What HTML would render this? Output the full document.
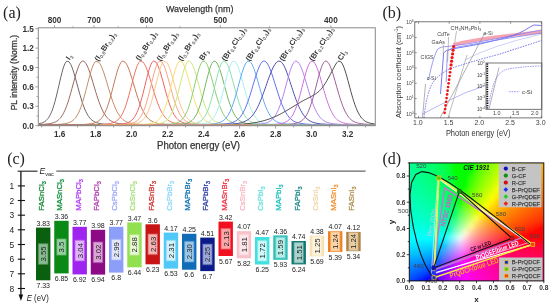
<!DOCTYPE html>
<html><head><meta charset="utf-8"><style>
html,body{margin:0;padding:0;background:#fff;}
svg{display:block;filter:blur(0.35px);}
</style></head><body>
<svg width="550" height="307" viewBox="0 0 550 307">
<rect width="550" height="307" fill="#fff"/>
<g id="pa">
<text x="3.1" y="17.6" font-family="'Liberation Serif', serif" font-size="16" fill="#222">(a)</text>
<polyline points="38.9,123.7 40.9,123.3 41.9,122.9 42.9,122.6 43.9,122.1 44.9,121.5 45.9,120.7 46.9,119.7 47.9,118.6 48.9,117.2 49.9,115.4 50.9,113.4 51.9,111.1 52.9,108.3 53.9,105.2 54.9,101.8 55.9,98.0 56.9,94.0 57.9,89.7 58.9,85.4 59.9,81.0 60.9,76.8 61.9,72.8 62.9,69.2 63.9,66.1 64.9,63.7 65.9,62.0 66.9,61.1 68.9,61.7 69.9,63.0 70.9,64.7 71.9,67.0 72.9,69.8 73.9,72.9 74.9,76.3 75.9,79.8 76.9,83.5 77.9,87.2 78.9,90.9 79.9,94.5 80.9,97.9 81.9,101.2 82.9,104.2 83.9,106.9 84.9,109.4 85.9,111.6 86.9,113.6 87.9,115.3 88.9,116.8 89.9,118.1 90.9,119.2 91.9,120.1 92.9,120.8 93.9,121.5 94.9,122.0 95.9,122.4 96.9,122.8 97.9,123.1 98.9,123.3 100.9,123.7 102.9,124.0 104.9,124.2 108.9,124.4 110.9,124.5 116.9,124.8 122.9,125.0 128.9,125.1 134.9,125.1 140.9,125.1 146.9,125.1 152.9,125.1 158.9,125.1 164.9,125.1" fill="none" stroke="#6e6666" stroke-width="1.0" stroke-linejoin="round"/>
<polyline points="38.9,124.6 43.9,124.3 44.9,124.2 47.9,123.9 49.9,123.6 50.9,123.4 52.9,122.9 53.9,122.6 54.9,122.2 55.9,121.7 56.9,121.1 57.9,120.4 58.9,119.5 59.9,118.5 60.9,117.3 61.9,115.9 62.9,114.3 63.9,112.4 64.9,110.3 65.9,107.9 66.9,105.3 67.9,102.4 68.9,99.3 69.9,95.9 70.9,92.4 71.9,88.7 72.9,85.0 73.9,81.3 74.9,77.7 75.9,74.2 76.9,71.0 77.9,68.1 78.9,65.6 79.9,63.6 80.9,62.1 81.9,61.3 82.9,61.0 83.9,61.3 84.9,62.2 85.9,63.5 86.9,65.2 87.9,67.4 88.9,69.9 89.9,72.7 90.9,75.8 91.9,79.0 92.9,82.3 93.9,85.7 94.9,89.1 95.9,92.4 96.9,95.6 97.9,98.7 98.9,101.6 99.9,104.3 100.9,106.8 101.9,109.1 102.9,111.1 103.9,113.0 104.9,114.6 105.9,116.1 106.9,117.3 107.9,118.4 108.9,119.4 109.9,120.2 110.9,120.9 111.9,121.4 112.9,121.9 113.9,122.3 114.9,122.7 115.9,123.0 116.9,123.2 118.9,123.6 120.9,123.9 122.9,124.1 126.9,124.3 128.9,124.5 134.9,124.7 140.9,124.9 146.9,125.0 152.9,125.1 158.9,125.1 164.9,125.1 170.9,125.1 176.9,125.1 182.9,125.1 188.9,125.1 189.9,125.1" fill="none" stroke="#9c6860" stroke-width="1.0" stroke-linejoin="round"/>
<polyline points="38.9,125.1 44.9,124.9 50.9,124.7 56.9,124.5 60.9,124.2 62.9,124.0 64.9,123.7 66.9,123.3 67.9,123.0 68.9,122.7 69.9,122.3 70.9,121.8 71.9,121.2 72.9,120.5 73.9,119.6 74.9,118.6 75.9,117.3 76.9,115.8 77.9,114.1 78.9,112.1 79.9,109.8 80.9,107.3 81.9,104.4 82.9,101.2 83.9,97.8 84.9,94.2 85.9,90.4 86.9,86.6 87.9,82.6 88.9,78.8 89.9,75.1 90.9,71.6 91.9,68.5 92.9,65.8 93.9,63.7 94.9,62.1 95.9,61.3 98.9,62.3 99.9,63.6 100.9,65.4 101.9,67.6 102.9,70.2 103.9,73.0 104.9,76.1 105.9,79.3 106.9,82.7 107.9,86.1 108.9,89.4 109.9,92.7 110.9,95.9 111.9,99.0 112.9,101.9 113.9,104.5 114.9,107.0 115.9,109.3 116.9,111.3 117.9,113.2 118.9,114.8 119.9,116.2 120.9,117.5 121.9,118.5 122.9,119.5 123.9,120.3 124.9,120.9 125.9,121.5 126.9,122.0 127.9,122.4 128.9,122.7 129.9,123.0 131.9,123.4 133.9,123.7 134.9,123.9 137.9,124.2 140.9,124.4 146.9,124.6 152.9,124.8 158.9,125.0 164.9,125.1 170.9,125.1 176.9,125.1 182.9,125.1 188.9,125.1 194.9,125.1 200.9,125.1 203.9,125.1" fill="none" stroke="#c48c66" stroke-width="1.0" stroke-linejoin="round"/>
<polyline points="38.9,125.1 44.9,125.1 50.9,125.1 56.9,125.1 62.9,125.1 68.9,125.0 74.9,124.8 80.9,124.6 85.9,124.3 86.9,124.2 89.9,123.9 91.9,123.6 92.9,123.4 94.9,122.8 95.9,122.4 96.9,122.0 97.9,121.4 98.9,120.7 99.9,119.9 100.9,118.9 101.9,117.7 102.9,116.3 103.9,114.7 104.9,112.7 105.9,110.5 106.9,108.1 107.9,105.3 108.9,102.2 109.9,98.9 110.9,95.3 111.9,91.6 112.9,87.7 113.9,83.8 114.9,79.9 115.9,76.2 116.9,72.6 117.9,69.4 118.9,66.6 119.9,64.3 120.9,62.5 121.9,61.4 122.9,61.0 124.9,62.0 125.9,63.2 126.9,64.8 127.9,66.9 128.9,69.4 129.9,72.1 130.9,75.2 131.9,78.3 132.9,81.7 133.9,85.0 134.9,88.4 135.9,91.8 136.9,95.0 137.9,98.1 138.9,101.0 139.9,103.8 140.9,106.3 141.9,108.6 142.9,110.7 143.9,112.6 144.9,114.3 145.9,115.8 146.9,117.1 147.9,118.2 148.9,119.2 149.9,120.0 150.9,120.7 151.9,121.3 152.9,121.8 153.9,122.3 154.9,122.6 155.9,122.9 156.9,123.2 158.9,123.6 160.9,123.8 163.9,124.1 164.9,124.2 169.9,124.5 170.9,124.5 176.9,124.8 182.9,124.9 188.9,125.1 194.9,125.1 200.9,125.1 206.9,125.1 212.9,125.1 218.9,125.1 224.9,125.1 229.9,125.1" fill="none" stroke="#c47a56" stroke-width="1.0" stroke-linejoin="round"/>
<polyline points="48.9,125.1 54.9,125.1 60.9,125.1 66.9,125.1 72.9,125.1 78.9,125.1 84.9,125.0 90.9,124.9 96.9,124.7 101.9,124.4 102.9,124.4 106.9,124.0 108.9,123.7 110.9,123.4 112.9,122.8 113.9,122.4 114.9,122.0 115.9,121.4 116.9,120.7 117.9,119.9 118.9,118.9 119.9,117.7 120.9,116.3 121.9,114.7 122.9,112.7 123.9,110.5 124.9,108.1 125.9,105.3 126.9,102.2 127.9,98.9 128.9,95.3 129.9,91.6 130.9,87.7 131.9,83.8 132.9,79.9 133.9,76.2 134.9,72.6 135.9,69.4 136.9,66.6 137.9,64.3 138.9,62.5 139.9,61.4 140.9,61.0 142.9,62.0 143.9,63.2 144.9,64.8 145.9,66.9 146.9,69.4 147.9,72.1 148.9,75.2 149.9,78.3 150.9,81.7 151.9,85.0 152.9,88.4 153.9,91.8 154.9,95.0 155.9,98.1 156.9,101.0 157.9,103.8 158.9,106.3 159.9,108.6 160.9,110.7 161.9,112.6 162.9,114.3 163.9,115.8 164.9,117.1 165.9,118.2 166.9,119.2 167.9,120.0 168.9,120.7 169.9,121.3 170.9,121.8 171.9,122.3 172.9,122.6 173.9,122.9 174.9,123.2 176.9,123.6 178.9,123.8 180.9,124.0 184.9,124.3 186.9,124.4 192.9,124.7 198.9,124.9 204.9,125.0 210.9,125.1 216.9,125.1 222.9,125.1 228.9,125.1 234.9,125.1 240.9,125.1 246.9,125.1 247.9,125.1" fill="none" stroke="#f07262" stroke-width="1.0" stroke-linejoin="round"/>
<polyline points="66.9,125.1 72.9,125.1 78.9,125.1 84.9,125.1 90.9,125.1 96.9,125.1 102.9,125.0 108.9,124.8 114.9,124.5 118.9,124.3 120.9,124.1 123.9,123.7 125.9,123.3 126.9,123.0 127.9,122.6 128.9,122.2 129.9,121.6 130.9,120.9 131.9,120.1 132.9,119.1 133.9,117.9 134.9,116.4 135.9,114.7 136.9,112.6 137.9,110.3 138.9,107.6 139.9,104.6 140.9,101.3 141.9,97.7 142.9,93.9 143.9,89.9 144.9,85.8 145.9,81.7 146.9,77.6 147.9,73.8 148.9,70.3 149.9,67.2 150.9,64.6 151.9,62.7 152.9,61.5 153.9,61.0 155.9,62.1 156.9,63.6 157.9,65.6 158.9,68.1 159.9,71.0 160.9,74.2 161.9,77.7 162.9,81.3 163.9,85.0 164.9,88.7 165.9,92.4 166.9,95.9 167.9,99.3 168.9,102.4 169.9,105.3 170.9,107.9 171.9,110.3 172.9,112.4 173.9,114.3 174.9,115.9 175.9,117.3 176.9,118.5 177.9,119.5 178.9,120.4 179.9,121.1 180.9,121.7 181.9,122.2 182.9,122.6 183.9,122.9 184.9,123.2 186.9,123.6 188.9,123.9 191.9,124.2 192.9,124.3 197.9,124.6 198.9,124.6 204.9,124.8 210.9,125.0 216.9,125.1 222.9,125.1 228.9,125.1 234.9,125.1 240.9,125.1 246.9,125.1 250.9,125.1" fill="none" stroke="#f06262" stroke-width="1.0" stroke-linejoin="round"/>
<polyline points="72.9,125.1 78.9,125.1 84.9,125.1 90.9,125.1 96.9,125.1 102.9,125.1 108.9,125.0 114.9,124.8 120.9,124.5 124.9,124.3 126.9,124.1 129.9,123.7 131.9,123.3 132.9,123.0 133.9,122.6 134.9,122.2 135.9,121.6 136.9,120.9 137.9,120.1 138.9,119.1 139.9,117.9 140.9,116.4 141.9,114.7 142.9,112.6 143.9,110.3 144.9,107.6 145.9,104.6 146.9,101.3 147.9,97.7 148.9,93.9 149.9,89.9 150.9,85.8 151.9,81.7 152.9,77.6 153.9,73.8 154.9,70.3 155.9,67.2 156.9,64.6 157.9,62.7 158.9,61.5 159.9,61.0 161.9,62.1 162.9,63.6 163.9,65.6 164.9,68.1 165.9,71.0 166.9,74.2 167.9,77.7 168.9,81.3 169.9,85.0 170.9,88.7 171.9,92.4 172.9,95.9 173.9,99.3 174.9,102.4 175.9,105.3 176.9,107.9 177.9,110.3 178.9,112.4 179.9,114.3 180.9,115.9 181.9,117.3 182.9,118.5 183.9,119.5 184.9,120.4 185.9,121.1 186.9,121.7 187.9,122.2 188.9,122.6 189.9,122.9 190.9,123.2 192.9,123.6 194.9,123.9 197.9,124.2 198.9,124.3 203.9,124.6 204.9,124.6 210.9,124.8 216.9,125.0 222.9,125.1 228.9,125.1 234.9,125.1 240.9,125.1 246.9,125.1 252.9,125.1 256.9,125.1" fill="none" stroke="#f8a484" stroke-width="1.0" stroke-linejoin="round"/>
<polyline points="76.9,125.1 82.9,125.1 88.9,125.1 94.9,125.1 100.9,125.1 106.9,125.1 112.9,125.0 118.9,124.8 124.9,124.6 129.9,124.3 130.9,124.2 133.9,123.8 135.9,123.4 136.9,123.2 137.9,122.9 138.9,122.5 139.9,122.0 140.9,121.4 141.9,120.7 142.9,119.8 143.9,118.8 144.9,117.5 145.9,115.9 146.9,114.1 147.9,112.0 148.9,109.5 149.9,106.8 150.9,103.7 151.9,100.3 152.9,96.6 153.9,92.7 154.9,88.7 155.9,84.6 156.9,80.4 157.9,76.4 158.9,72.7 159.9,69.3 160.9,66.3 161.9,64.0 162.9,62.3 163.9,61.3 166.9,62.5 167.9,64.1 168.9,66.3 169.9,68.9 170.9,71.9 171.9,75.2 172.9,78.7 173.9,82.4 174.9,86.1 175.9,89.8 176.9,93.4 177.9,96.9 178.9,100.2 179.9,103.3 180.9,106.1 181.9,108.7 182.9,111.0 183.9,113.0 184.9,114.8 185.9,116.4 186.9,117.7 187.9,118.8 188.9,119.8 189.9,120.6 190.9,121.3 191.9,121.8 192.9,122.3 193.9,122.7 194.9,123.0 195.9,123.3 196.9,123.5 198.9,123.8 201.9,124.1 202.9,124.2 206.9,124.5 208.9,124.6 214.9,124.8 220.9,125.0 226.9,125.1 232.9,125.1 238.9,125.1 244.9,125.1 250.9,125.1 256.9,125.1 261.9,125.1" fill="none" stroke="#f8c890" stroke-width="1.0" stroke-linejoin="round"/>
<polyline points="92.9,125.1 98.9,125.1 104.9,125.1 110.9,125.1 116.9,125.1 122.9,125.1 128.9,125.0 134.9,124.8 140.9,124.5 144.9,124.3 146.9,124.1 149.9,123.7 151.9,123.3 152.9,123.0 153.9,122.7 154.9,122.3 155.9,121.7 156.9,121.1 157.9,120.3 158.9,119.3 159.9,118.1 160.9,116.7 161.9,115.0 162.9,113.1 163.9,110.8 164.9,108.2 165.9,105.3 166.9,102.0 167.9,98.5 168.9,94.7 169.9,90.7 170.9,86.6 171.9,82.5 172.9,78.4 173.9,74.5 174.9,70.9 175.9,67.8 176.9,65.1 177.9,63.0 178.9,61.7 179.9,61.1 181.9,61.9 182.9,63.3 183.9,65.2 184.9,67.5 185.9,70.4 186.9,73.5 187.9,77.0 188.9,80.6 189.9,84.3 190.9,88.0 191.9,91.7 192.9,95.2 193.9,98.6 194.9,101.8 195.9,104.7 196.9,107.4 197.9,109.9 198.9,112.0 199.9,113.9 200.9,115.6 201.9,117.1 202.9,118.3 203.9,119.3 204.9,120.2 205.9,121.0 206.9,121.6 207.9,122.1 208.9,122.5 209.9,122.9 210.9,123.1 212.9,123.6 214.9,123.9 217.9,124.2 218.9,124.3 223.9,124.5 224.9,124.6 230.9,124.8 236.9,125.0 242.9,125.1 248.9,125.1 254.9,125.1 260.9,125.1 266.9,125.1 272.9,125.1 276.9,125.1" fill="none" stroke="#f8e070" stroke-width="1.0" stroke-linejoin="round"/>
<polyline points="101.9,125.1 107.9,125.1 113.9,125.1 119.9,125.1 125.9,125.1 131.9,125.1 137.9,125.0 143.9,124.8 149.9,124.5 153.9,124.3 155.9,124.1 158.9,123.7 160.9,123.2 161.9,122.9 162.9,122.6 163.9,122.1 164.9,121.6 165.9,120.9 166.9,120.0 167.9,119.0 168.9,117.7 169.9,116.2 170.9,114.5 171.9,112.4 172.9,110.0 173.9,107.3 174.9,104.3 175.9,101.0 176.9,97.4 177.9,93.5 178.9,89.5 179.9,85.4 180.9,81.3 181.9,77.2 182.9,73.4 183.9,69.9 184.9,66.9 185.9,64.4 186.9,62.6 187.9,61.4 188.9,61.0 189.9,61.3 190.9,62.3 191.9,63.8 192.9,65.8 193.9,68.4 194.9,71.3 195.9,74.5 196.9,78.0 197.9,81.7 198.9,85.4 199.9,89.1 200.9,92.7 201.9,96.2 202.9,99.6 203.9,102.7 204.9,105.6 205.9,108.2 206.9,110.5 207.9,112.6 208.9,114.5 209.9,116.1 210.9,117.5 211.9,118.6 212.9,119.6 213.9,120.5 214.9,121.2 215.9,121.7 216.9,122.2 217.9,122.6 218.9,122.9 219.9,123.2 221.9,123.6 223.9,123.9 226.9,124.2 227.9,124.3 232.9,124.6 233.9,124.6 239.9,124.8 245.9,125.0 251.9,125.1 257.9,125.1 263.9,125.1 269.9,125.1 275.9,125.1 281.9,125.1 285.9,125.1" fill="none" stroke="#cce878" stroke-width="1.0" stroke-linejoin="round"/>
<polyline points="115.9,125.1 121.9,125.1 127.9,125.1 133.9,125.1 139.9,125.1 145.9,125.1 151.9,125.0 157.9,124.8 163.9,124.6 168.9,124.2 169.9,124.2 172.9,123.8 174.9,123.4 175.9,123.2 176.9,122.8 177.9,122.5 178.9,122.0 179.9,121.4 180.9,120.6 181.9,119.7 182.9,118.6 183.9,117.3 184.9,115.7 185.9,113.9 186.9,111.7 187.9,109.3 188.9,106.5 189.9,103.4 190.9,99.9 191.9,96.2 192.9,92.3 193.9,88.3 194.9,84.1 195.9,80.0 196.9,76.1 197.9,72.3 198.9,69.0 199.9,66.1 200.9,63.8 201.9,62.1 202.9,61.2 204.9,61.6 205.9,62.7 206.9,64.3 207.9,66.5 208.9,69.2 209.9,72.2 210.9,75.6 211.9,79.1 212.9,82.8 213.9,86.5 214.9,90.2 215.9,93.8 216.9,97.3 217.9,100.5 218.9,103.6 219.9,106.4 220.9,108.9 221.9,111.2 222.9,113.2 223.9,115.0 224.9,116.5 225.9,117.8 226.9,119.0 227.9,119.9 228.9,120.7 229.9,121.3 230.9,121.9 231.9,122.3 232.9,122.7 233.9,123.0 234.9,123.3 235.9,123.5 237.9,123.8 240.9,124.1 241.9,124.2 245.9,124.5 247.9,124.6 253.9,124.8 259.9,125.0 265.9,125.1 271.9,125.1 277.9,125.1 283.9,125.1 289.9,125.1 295.9,125.1 300.9,125.1" fill="none" stroke="#8cd070" stroke-width="1.0" stroke-linejoin="round"/>
<polyline points="126.9,125.1 132.9,125.1 138.9,125.1 144.9,125.1 150.9,125.1 156.9,125.1 162.9,125.0 168.9,124.8 174.9,124.6 178.9,124.3 180.9,124.1 183.9,123.8 185.9,123.4 186.9,123.1 187.9,122.8 188.9,122.4 189.9,121.9 190.9,121.2 191.9,120.5 192.9,119.5 193.9,118.4 194.9,117.0 195.9,115.4 196.9,113.5 197.9,111.3 198.9,108.7 199.9,105.9 200.9,102.7 201.9,99.2 202.9,95.5 203.9,91.5 204.9,87.5 205.9,83.3 206.9,79.2 207.9,75.3 208.9,71.6 209.9,68.4 210.9,65.6 211.9,63.4 212.9,61.9 213.9,61.1 215.9,61.7 216.9,63.0 217.9,64.7 218.9,67.0 219.9,69.8 220.9,72.9 221.9,76.3 222.9,79.8 223.9,83.5 224.9,87.2 225.9,90.9 226.9,94.5 227.9,97.9 228.9,101.2 229.9,104.2 230.9,106.9 231.9,109.4 232.9,111.6 233.9,113.6 234.9,115.3 235.9,116.8 236.9,118.1 237.9,119.2 238.9,120.1 239.9,120.8 240.9,121.5 241.9,122.0 242.9,122.4 243.9,122.8 244.9,123.1 246.9,123.5 248.9,123.8 251.9,124.2 252.9,124.2 256.9,124.5 258.9,124.6 264.9,124.8 270.9,125.0 276.9,125.1 282.9,125.1 288.9,125.1 294.9,125.1 300.9,125.1 306.9,125.1 311.9,125.1" fill="none" stroke="#70b860" stroke-width="1.0" stroke-linejoin="round"/>
<polyline points="136.9,125.1 142.9,125.1 148.9,125.1 154.9,125.1 160.9,125.1 166.9,125.1 172.9,125.0 178.9,124.8 184.9,124.5 188.9,124.3 190.9,124.1 193.9,123.7 195.9,123.3 196.9,123.0 197.9,122.6 198.9,122.2 199.9,121.6 200.9,120.9 201.9,120.1 202.9,119.1 203.9,117.9 204.9,116.4 205.9,114.7 206.9,112.6 207.9,110.3 208.9,107.6 209.9,104.6 210.9,101.3 211.9,97.7 212.9,93.9 213.9,89.9 214.9,85.8 215.9,81.7 216.9,77.6 217.9,73.8 218.9,70.3 219.9,67.2 220.9,64.6 221.9,62.7 222.9,61.5 223.9,61.0 225.9,62.1 226.9,63.6 227.9,65.6 228.9,68.1 229.9,71.0 230.9,74.2 231.9,77.7 232.9,81.3 233.9,85.0 234.9,88.7 235.9,92.4 236.9,95.9 237.9,99.3 238.9,102.4 239.9,105.3 240.9,107.9 241.9,110.3 242.9,112.4 243.9,114.3 244.9,115.9 245.9,117.3 246.9,118.5 247.9,119.5 248.9,120.4 249.9,121.1 250.9,121.7 251.9,122.2 252.9,122.6 253.9,122.9 254.9,123.2 256.9,123.6 258.9,123.9 261.9,124.2 262.9,124.3 267.9,124.6 268.9,124.6 274.9,124.8 280.9,125.0 286.9,125.1 292.9,125.1 298.9,125.1 304.9,125.1 310.9,125.1 316.9,125.1 320.9,125.1" fill="none" stroke="#8ce0b0" stroke-width="1.0" stroke-linejoin="round"/>
<polyline points="145.9,125.1 151.9,125.1 157.9,125.1 163.9,125.1 169.9,125.1 175.9,125.1 181.9,125.0 187.9,124.8 193.9,124.6 198.9,124.2 199.9,124.2 202.9,123.8 204.9,123.4 205.9,123.2 206.9,122.8 207.9,122.5 208.9,122.0 209.9,121.4 210.9,120.6 211.9,119.7 212.9,118.6 213.9,117.3 214.9,115.7 215.9,113.9 216.9,111.7 217.9,109.3 218.9,106.5 219.9,103.4 220.9,99.9 221.9,96.2 222.9,92.3 223.9,88.3 224.9,84.1 225.9,80.0 226.9,76.1 227.9,72.3 228.9,69.0 229.9,66.1 230.9,63.8 231.9,62.1 232.9,61.2 234.9,61.6 235.9,62.7 236.9,64.3 237.9,66.5 238.9,69.2 239.9,72.2 240.9,75.6 241.9,79.1 242.9,82.8 243.9,86.5 244.9,90.2 245.9,93.8 246.9,97.3 247.9,100.5 248.9,103.6 249.9,106.4 250.9,108.9 251.9,111.2 252.9,113.2 253.9,115.0 254.9,116.5 255.9,117.8 256.9,119.0 257.9,119.9 258.9,120.7 259.9,121.3 260.9,121.9 261.9,122.3 262.9,122.7 263.9,123.0 264.9,123.3 265.9,123.5 267.9,123.8 270.9,124.1 271.9,124.2 275.9,124.5 277.9,124.6 283.9,124.8 289.9,125.0 295.9,125.1 301.9,125.1 307.9,125.1 313.9,125.1 319.9,125.1 325.9,125.1 330.9,125.1" fill="none" stroke="#a8f0f0" stroke-width="1.0" stroke-linejoin="round"/>
<polyline points="150.9,125.1 156.9,125.1 162.9,125.1 168.9,125.1 174.9,125.1 180.9,125.1 186.9,125.1 192.9,125.0 198.9,124.8 204.9,124.5 209.9,124.2 210.9,124.2 213.9,123.9 215.9,123.5 216.9,123.3 218.9,122.8 219.9,122.5 220.9,122.0 221.9,121.5 222.9,120.9 223.9,120.1 224.9,119.3 225.9,118.2 226.9,116.9 227.9,115.5 228.9,113.8 229.9,111.8 230.9,109.6 231.9,107.2 232.9,104.4 233.9,101.5 234.9,98.3 235.9,94.9 236.9,91.3 237.9,87.6 238.9,83.9 239.9,80.2 240.9,76.6 241.9,73.2 242.9,70.1 243.9,67.3 244.9,64.9 245.9,63.1 246.9,61.8 247.9,61.1 249.9,61.6 250.9,62.6 251.9,64.2 252.9,66.3 253.9,68.7 254.9,71.6 255.9,74.7 256.9,78.0 257.9,81.5 258.9,85.0 259.9,88.6 260.9,92.1 261.9,95.4 262.9,98.6 263.9,101.7 264.9,104.5 265.9,107.1 266.9,109.5 267.9,111.6 268.9,113.5 269.9,115.1 270.9,116.6 271.9,117.8 272.9,118.9 273.9,119.8 274.9,120.6 275.9,121.2 276.9,121.8 277.9,122.2 278.9,122.6 279.9,122.9 280.9,123.2 282.9,123.6 284.9,123.9 287.9,124.2 288.9,124.2 293.9,124.5 294.9,124.6 300.9,124.8 306.9,125.0 312.9,125.1 318.9,125.1 324.9,125.1 330.9,125.1 336.9,125.1 342.9,125.1 348.9,125.1 350.9,125.1" fill="none" stroke="#60a8f8" stroke-width="1.0" stroke-linejoin="round"/>
<polyline points="156.9,125.1 162.9,125.1 168.9,125.1 174.9,125.1 180.9,125.1 186.9,125.1 192.9,125.1 198.9,125.0 204.9,124.9 210.9,124.7 216.9,124.5 221.9,124.2 222.9,124.1 225.9,123.9 227.9,123.6 228.9,123.4 230.9,123.0 231.9,122.7 232.9,122.3 233.9,121.9 234.9,121.4 235.9,120.9 236.9,120.2 237.9,119.4 238.9,118.4 239.9,117.3 240.9,116.1 241.9,114.6 242.9,113.0 243.9,111.1 244.9,109.1 245.9,106.8 246.9,104.3 247.9,101.6 248.9,98.7 249.9,95.6 250.9,92.4 251.9,89.1 252.9,85.7 253.9,82.3 254.9,79.0 255.9,75.8 256.9,72.7 257.9,69.9 258.9,67.4 259.9,65.2 260.9,63.5 261.9,62.2 262.9,61.3 263.9,61.0 264.9,61.2 265.9,61.9 266.9,63.0 267.9,64.5 268.9,66.4 269.9,68.7 270.9,71.3 271.9,74.1 272.9,77.1 273.9,80.2 274.9,83.4 275.9,86.7 276.9,89.9 277.9,93.0 278.9,96.1 279.9,99.0 280.9,101.8 281.9,104.3 282.9,106.7 283.9,108.9 284.9,110.9 285.9,112.7 286.9,114.3 287.9,115.7 288.9,117.0 289.9,118.1 290.9,119.0 291.9,119.9 292.9,120.6 293.9,121.2 294.9,121.7 295.9,122.1 296.9,122.5 297.9,122.8 298.9,123.0 300.9,123.4 302.9,123.7 305.9,124.1 306.9,124.1 310.9,124.4 312.9,124.5 318.9,124.7 324.9,124.9 330.9,125.0 336.9,125.1 342.9,125.1 348.9,125.1 354.9,125.1 360.9,125.1 366.9,125.1 372.9,125.1 374.9,125.1" fill="none" stroke="#6070f0" stroke-width="1.0" stroke-linejoin="round"/>
<polyline points="152.9,125.1 158.9,125.1 164.9,125.1 170.9,125.1 176.9,125.1 182.9,125.1 188.9,125.1 194.9,125.1 200.9,125.1 206.9,125.0 212.9,124.8 218.9,124.7 224.9,124.4 229.9,124.2 230.9,124.1 234.9,123.8 236.9,123.5 238.9,123.2 240.9,122.8 241.9,122.5 242.9,122.2 243.9,121.8 244.9,121.4 245.9,120.9 246.9,120.3 247.9,119.7 248.9,119.0 249.9,118.1 250.9,117.2 251.9,116.1 252.9,114.9 253.9,113.5 254.9,112.0 255.9,110.4 256.9,108.6 257.9,106.6 258.9,104.5 259.9,102.2 260.9,99.8 261.9,97.3 262.9,94.6 263.9,91.9 264.9,89.1 265.9,86.2 266.9,83.4 267.9,80.5 268.9,77.7 269.9,75.1 270.9,72.5 271.9,70.1 272.9,67.9 273.9,66.0 274.9,64.4 275.9,63.0 276.9,62.0 277.9,61.3 278.9,61.0 280.9,61.7 281.9,62.6 282.9,63.9 283.9,65.6 284.9,67.7 285.9,70.0 286.9,72.6 287.9,75.4 288.9,78.3 289.9,81.4 290.9,84.5 291.9,87.6 292.9,90.6 293.9,93.6 294.9,96.5 295.9,99.3 296.9,101.9 297.9,104.4 298.9,106.7 299.9,108.8 300.9,110.7 301.9,112.5 302.9,114.0 303.9,115.4 304.9,116.7 305.9,117.8 306.9,118.7 307.9,119.6 308.9,120.3 309.9,120.9 310.9,121.4 311.9,121.9 312.9,122.3 313.9,122.6 314.9,122.9 316.9,123.3 318.9,123.6 320.9,123.9 323.9,124.1 326.9,124.3 332.9,124.6 338.9,124.8 344.9,124.9 350.9,125.1 356.9,125.1 362.9,125.1 368.9,125.1 374.9,125.1" fill="none" stroke="#5050b0" stroke-width="1.0" stroke-linejoin="round"/>
<polyline points="198.9,125.1 204.9,125.1 210.9,125.1 216.9,125.1 222.9,125.1 228.9,125.1 234.9,125.1 240.9,124.9 246.9,124.8 252.9,124.5 257.9,124.2 258.9,124.1 261.9,123.8 263.9,123.5 264.9,123.2 265.9,123.0 266.9,122.7 267.9,122.3 268.9,121.8 269.9,121.2 270.9,120.5 271.9,119.7 272.9,118.7 273.9,117.6 274.9,116.2 275.9,114.6 276.9,112.8 277.9,110.8 278.9,108.4 279.9,105.8 280.9,103.0 281.9,99.9 282.9,96.6 283.9,93.1 284.9,89.5 285.9,85.8 286.9,82.0 287.9,78.4 288.9,74.9 289.9,71.6 290.9,68.6 291.9,66.1 292.9,64.0 293.9,62.4 294.9,61.4 295.9,61.0 297.9,62.0 298.9,63.2 299.9,64.8 300.9,66.9 301.9,69.4 302.9,72.1 303.9,75.2 304.9,78.3 305.9,81.7 306.9,85.0 307.9,88.4 308.9,91.8 309.9,95.0 310.9,98.1 311.9,101.0 312.9,103.8 313.9,106.3 314.9,108.6 315.9,110.7 316.9,112.6 317.9,114.3 318.9,115.8 319.9,117.1 320.9,118.2 321.9,119.2 322.9,120.0 323.9,120.7 324.9,121.3 325.9,121.8 326.9,122.3 327.9,122.6 328.9,122.9 329.9,123.2 330.9,123.4 332.9,123.7 335.9,124.0 336.9,124.1 340.9,124.4 342.9,124.5 348.9,124.7 354.9,124.9 360.9,125.0 366.9,125.1 372.9,125.1 374.9,125.1" fill="none" stroke="#b484f0" stroke-width="1.0" stroke-linejoin="round"/>
<polyline points="219.9,125.1 225.9,125.1 231.9,125.1 237.9,125.1 243.9,125.1 249.9,125.1 255.9,125.0 261.9,124.9 267.9,124.7 272.9,124.4 273.9,124.4 277.9,124.0 279.9,123.7 281.9,123.4 283.9,122.8 284.9,122.4 285.9,122.0 286.9,121.4 287.9,120.7 288.9,119.9 289.9,118.9 290.9,117.7 291.9,116.3 292.9,114.7 293.9,112.7 294.9,110.5 295.9,108.1 296.9,105.3 297.9,102.2 298.9,98.9 299.9,95.3 300.9,91.6 301.9,87.7 302.9,83.8 303.9,79.9 304.9,76.2 305.9,72.6 306.9,69.4 307.9,66.6 308.9,64.3 309.9,62.5 310.9,61.4 311.9,61.0 313.9,62.0 314.9,63.4 315.9,65.2 316.9,67.5 317.9,70.1 318.9,73.1 319.9,76.3 320.9,79.7 321.9,83.3 322.9,86.8 323.9,90.3 324.9,93.8 325.9,97.1 326.9,100.2 327.9,103.1 328.9,105.8 329.9,108.3 330.9,110.5 331.9,112.5 332.9,114.3 333.9,115.9 334.9,117.2 335.9,118.4 336.9,119.4 337.9,120.2 338.9,120.9 339.9,121.5 340.9,122.0 341.9,122.4 342.9,122.8 343.9,123.0 345.9,123.5 347.9,123.8 350.9,124.1 351.9,124.2 355.9,124.5 357.9,124.6 363.9,124.8 369.9,124.9 374.9,125.1" fill="none" stroke="#d070e0" stroke-width="1.0" stroke-linejoin="round"/>
<polyline points="233.9,125.1 239.9,125.1 245.9,125.1 251.9,125.1 257.9,125.1 263.9,125.1 269.9,125.0 275.9,124.9 281.9,124.7 286.9,124.4 287.9,124.3 291.9,124.0 293.9,123.7 295.9,123.3 296.9,123.1 297.9,122.7 298.9,122.4 299.9,121.9 300.9,121.3 301.9,120.6 302.9,119.7 303.9,118.7 304.9,117.5 305.9,116.0 306.9,114.3 307.9,112.3 308.9,110.1 309.9,107.5 310.9,104.7 311.9,101.6 312.9,98.2 313.9,94.6 314.9,90.8 315.9,87.0 316.9,83.0 317.9,79.2 318.9,75.4 319.9,71.9 320.9,68.8 321.9,66.1 322.9,63.9 323.9,62.3 324.9,61.3 325.9,61.0 326.9,61.4 327.9,62.3 328.9,63.7 329.9,65.6 330.9,68.0 331.9,70.7 332.9,73.7 333.9,77.0 334.9,80.4 335.9,84.0 336.9,87.5 337.9,91.0 338.9,94.4 339.9,97.7 340.9,100.8 341.9,103.7 342.9,106.3 343.9,108.8 344.9,111.0 345.9,112.9 346.9,114.6 347.9,116.1 348.9,117.5 349.9,118.6 350.9,119.5 351.9,120.4 352.9,121.0 353.9,121.6 354.9,122.1 355.9,122.5 356.9,122.8 357.9,123.1 359.9,123.5 361.9,123.8 364.9,124.1 365.9,124.2 370.9,124.5 371.9,124.6 374.9,124.7" fill="none" stroke="#a06098" stroke-width="1.0" stroke-linejoin="round"/>
<polyline points="208.9,125.1 214.9,125.1 220.9,125.1 226.9,125.1 232.9,124.8 237.9,124.6 238.9,124.5 242.9,124.2 244.9,124.0 247.9,123.7 250.9,123.3 252.9,123.0 254.9,122.7 256.9,122.3 258.9,121.9 260.9,121.4 262.9,120.9 263.9,120.6 264.9,120.4 265.9,120.1 266.9,119.7 267.9,119.4 268.9,119.1 269.9,118.7 270.9,118.3 271.9,117.9 272.9,117.5 273.9,117.1 274.9,116.7 275.9,116.2 276.9,115.8 277.9,115.3 278.9,114.8 279.9,114.3 280.9,113.8 281.9,113.2 282.9,112.7 283.9,112.1 284.9,111.5 285.9,111.0 286.9,110.4 287.9,109.8 288.9,109.2 289.9,108.6 290.9,108.0 291.9,107.4 292.9,106.8 293.9,106.2 294.9,105.6 295.9,105.0 296.9,104.4 297.9,103.8 298.9,103.2 299.9,102.6 300.9,102.0 301.9,101.4 302.9,100.9 303.9,100.3 304.9,99.8 305.9,99.3 306.9,98.7 307.9,98.2 308.9,97.7 309.9,97.2 310.9,96.6 311.9,96.1 312.9,95.5 313.9,95.0 314.9,94.3 315.9,93.7 316.9,93.0 317.9,92.2 318.9,91.3 319.9,90.3 320.9,89.3 321.9,88.1 322.9,86.8 323.9,85.4 324.9,83.9 325.9,82.3 326.9,80.6 327.9,78.8 328.9,77.0 329.9,75.1 330.9,73.2 331.9,71.3 332.9,69.4 333.9,67.5 334.9,65.7 335.9,64.0 336.9,62.6 337.9,61.6 338.9,61.1 340.9,61.8 341.9,63.1 342.9,65.0 343.9,67.3 344.9,70.1 345.9,73.3 346.9,76.7 347.9,80.4 348.9,84.1 349.9,87.8 350.9,91.5 351.9,95.1 352.9,98.5 353.9,101.7 354.9,104.7 355.9,107.4 356.9,109.8 357.9,112.0 358.9,113.9 359.9,115.6 360.9,117.1 361.9,118.3 362.9,119.3 363.9,120.2 364.9,121.0 365.9,121.6 366.9,122.1 367.9,122.5 368.9,122.8 369.9,123.1 370.9,123.4 372.9,123.7 374.9,124.0" fill="none" stroke="#505050" stroke-width="1.0" stroke-linejoin="round"/>
<line x1="38.8" y1="125.0" x2="100" y2="125.0" stroke="#9a7a72" stroke-width="1.3"/>
<line x1="100" y1="125.0" x2="170" y2="125.0" stroke="#e88a6a" stroke-width="1.3"/>
<line x1="170" y1="125.0" x2="250" y2="125.0" stroke="#e0a070" stroke-width="1.3"/>
<line x1="250" y1="125.0" x2="290" y2="125.0" stroke="#a0b878" stroke-width="1.3"/>
<line x1="290" y1="125.0" x2="375" y2="125.0" stroke="#98a8a0" stroke-width="1.3"/>
<text transform="translate(69.8,60.5) rotate(-57)" font-family="'Liberation Sans', sans-serif" font-weight="bold" font-size="7.6" fill="#333"><tspan>I</tspan><tspan font-size="4.8" fill="#666" dx="0.3" dy="1.5">3</tspan></text>
<text transform="translate(98.4,61.7) rotate(-57)" font-family="'Liberation Sans', sans-serif" font-weight="bold" font-size="7.6" fill="#333"><tspan>(I</tspan><tspan font-size="4.8" fill="#666" dx="0.3" dy="1.5">0.8</tspan><tspan dx="0.2" dy="-1.5">Br</tspan><tspan font-size="4.8" fill="#666" dx="0.3" dy="1.5">0.2</tspan><tspan dx="0.2" dy="-1.5">)</tspan><tspan font-size="4.8" fill="#666" dx="0.3" dy="1.5">3</tspan></text>
<text transform="translate(139.5,61.1) rotate(-57)" font-family="'Liberation Sans', sans-serif" font-weight="bold" font-size="7.6" fill="#333"><tspan>(I</tspan><tspan font-size="4.8" fill="#666" dx="0.3" dy="1.5">0.6</tspan><tspan dx="0.2" dy="-1.5">Br</tspan><tspan font-size="4.8" fill="#666" dx="0.3" dy="1.5">0.4</tspan><tspan dx="0.2" dy="-1.5">)</tspan><tspan font-size="4.8" fill="#666" dx="0.3" dy="1.5">3</tspan></text>
<text transform="translate(160.6,61.5) rotate(-57)" font-family="'Liberation Sans', sans-serif" font-weight="bold" font-size="7.6" fill="#333"><tspan>(I</tspan><tspan font-size="4.8" fill="#666" dx="0.3" dy="1.5">0.4</tspan><tspan dx="0.2" dy="-1.5">Br</tspan><tspan font-size="4.8" fill="#666" dx="0.3" dy="1.5">0.6</tspan><tspan dx="0.2" dy="-1.5">)</tspan><tspan font-size="4.8" fill="#666" dx="0.3" dy="1.5">3</tspan></text>
<text transform="translate(181.7,61.5) rotate(-57)" font-family="'Liberation Sans', sans-serif" font-weight="bold" font-size="7.6" fill="#333"><tspan>(I</tspan><tspan font-size="4.8" fill="#666" dx="0.3" dy="1.5">0.2</tspan><tspan dx="0.2" dy="-1.5">Br</tspan><tspan font-size="4.8" fill="#666" dx="0.3" dy="1.5">0.8</tspan><tspan dx="0.2" dy="-1.5">)</tspan><tspan font-size="4.8" fill="#666" dx="0.3" dy="1.5">3</tspan></text>
<text transform="translate(203.1,60.9) rotate(-57)" font-family="'Liberation Sans', sans-serif" font-weight="bold" font-size="7.6" fill="#333"><tspan>Br</tspan><tspan font-size="4.8" fill="#666" dx="0.3" dy="1.5">3</tspan></text>
<text transform="translate(225.6,61.5) rotate(-57)" font-family="'Liberation Sans', sans-serif" font-weight="bold" font-size="7.6" fill="#333"><tspan>(Br</tspan><tspan font-size="4.8" fill="#666" dx="0.3" dy="1.5">0.8</tspan><tspan dx="0.2" dy="-1.5">Cl</tspan><tspan font-size="4.8" fill="#666" dx="0.3" dy="1.5">0.2</tspan><tspan dx="0.2" dy="-1.5">)</tspan><tspan font-size="4.8" fill="#666" dx="0.3" dy="1.5">3</tspan></text>
<text transform="translate(249.6,61.5) rotate(-57)" font-family="'Liberation Sans', sans-serif" font-weight="bold" font-size="7.6" fill="#333"><tspan>(Br</tspan><tspan font-size="4.8" fill="#666" dx="0.3" dy="1.5">0.6</tspan><tspan dx="0.2" dy="-1.5">Cl</tspan><tspan font-size="4.8" fill="#666" dx="0.3" dy="1.5">0.4</tspan><tspan dx="0.2" dy="-1.5">)</tspan><tspan font-size="4.8" fill="#666" dx="0.3" dy="1.5">3</tspan></text>
<text transform="translate(283.2,61.5) rotate(-57)" font-family="'Liberation Sans', sans-serif" font-weight="bold" font-size="7.6" fill="#333"><tspan>(Br</tspan><tspan font-size="4.8" fill="#666" dx="0.3" dy="1.5">0.4</tspan><tspan dx="0.2" dy="-1.5">Cl</tspan><tspan font-size="4.8" fill="#666" dx="0.3" dy="1.5">0.6</tspan><tspan dx="0.2" dy="-1.5">)</tspan><tspan font-size="4.8" fill="#666" dx="0.3" dy="1.5">3</tspan></text>
<text transform="translate(313.0,61.5) rotate(-57)" font-family="'Liberation Sans', sans-serif" font-weight="bold" font-size="7.6" fill="#333"><tspan>(Br</tspan><tspan font-size="4.8" fill="#666" dx="0.3" dy="1.5">0.2</tspan><tspan dx="0.2" dy="-1.5">Cl</tspan><tspan font-size="4.8" fill="#666" dx="0.3" dy="1.5">0.8</tspan><tspan dx="0.2" dy="-1.5">)</tspan><tspan font-size="4.8" fill="#666" dx="0.3" dy="1.5">3</tspan></text>
<text transform="translate(341.4,60.9) rotate(-57)" font-family="'Liberation Sans', sans-serif" font-weight="bold" font-size="7.6" fill="#333"><tspan>Cl</tspan><tspan font-size="4.8" fill="#666" dx="0.3" dy="1.5">3</tspan></text>
<rect x="38.3" y="27.8" width="337.0" height="97.9" fill="none" stroke="#8a8a8a" stroke-width="1"/>
<line x1="35.3" y1="125.7" x2="38.3" y2="125.7" stroke="#8a8a8a" stroke-width="0.8"/>
<line x1="36.5" y1="116.0" x2="38.3" y2="116.0" stroke="#8a8a8a" stroke-width="0.8"/>
<line x1="35.3" y1="106.3" x2="38.3" y2="106.3" stroke="#8a8a8a" stroke-width="0.8"/>
<line x1="36.5" y1="96.6" x2="38.3" y2="96.6" stroke="#8a8a8a" stroke-width="0.8"/>
<line x1="35.3" y1="86.9" x2="38.3" y2="86.9" stroke="#8a8a8a" stroke-width="0.8"/>
<line x1="36.5" y1="77.2" x2="38.3" y2="77.2" stroke="#8a8a8a" stroke-width="0.8"/>
<line x1="35.3" y1="67.5" x2="38.3" y2="67.5" stroke="#8a8a8a" stroke-width="0.8"/>
<line x1="36.5" y1="57.8" x2="38.3" y2="57.8" stroke="#8a8a8a" stroke-width="0.8"/>
<line x1="35.3" y1="48.1" x2="38.3" y2="48.1" stroke="#8a8a8a" stroke-width="0.8"/>
<line x1="36.5" y1="38.4" x2="38.3" y2="38.4" stroke="#8a8a8a" stroke-width="0.8"/>
<line x1="35.3" y1="28.7" x2="38.3" y2="28.7" stroke="#8a8a8a" stroke-width="0.8"/>
<text x="33.8" y="128.7" text-anchor="end" font-family="'Liberation Sans', sans-serif" font-weight="bold" font-size="8.2" fill="#333">0.0</text>
<text x="33.8" y="109.3" text-anchor="end" font-family="'Liberation Sans', sans-serif" font-weight="bold" font-size="8.2" fill="#333">0.3</text>
<text x="33.8" y="89.9" text-anchor="end" font-family="'Liberation Sans', sans-serif" font-weight="bold" font-size="8.2" fill="#333">0.6</text>
<text x="33.8" y="70.5" text-anchor="end" font-family="'Liberation Sans', sans-serif" font-weight="bold" font-size="8.2" fill="#333">0.9</text>
<text x="33.8" y="51.1" text-anchor="end" font-family="'Liberation Sans', sans-serif" font-weight="bold" font-size="8.2" fill="#333">1.2</text>
<text x="33.8" y="31.7" text-anchor="end" font-family="'Liberation Sans', sans-serif" font-weight="bold" font-size="8.2" fill="#333">1.5</text>
<line x1="41.6" y1="125.7" x2="41.6" y2="127.5" stroke="#8a8a8a" stroke-width="0.8"/>
<line x1="59.6" y1="125.7" x2="59.6" y2="128.7" stroke="#8a8a8a" stroke-width="0.8"/>
<text x="59.6" y="137.4" text-anchor="middle" font-family="'Liberation Sans', sans-serif" font-weight="bold" font-size="8.2" fill="#333">1.6</text>
<line x1="77.6" y1="125.7" x2="77.6" y2="127.5" stroke="#8a8a8a" stroke-width="0.8"/>
<line x1="95.6" y1="125.7" x2="95.6" y2="128.7" stroke="#8a8a8a" stroke-width="0.8"/>
<text x="95.6" y="137.4" text-anchor="middle" font-family="'Liberation Sans', sans-serif" font-weight="bold" font-size="8.2" fill="#333">1.8</text>
<line x1="113.6" y1="125.7" x2="113.6" y2="127.5" stroke="#8a8a8a" stroke-width="0.8"/>
<line x1="131.6" y1="125.7" x2="131.6" y2="128.7" stroke="#8a8a8a" stroke-width="0.8"/>
<text x="131.6" y="137.4" text-anchor="middle" font-family="'Liberation Sans', sans-serif" font-weight="bold" font-size="8.2" fill="#333">2.0</text>
<line x1="149.6" y1="125.7" x2="149.6" y2="127.5" stroke="#8a8a8a" stroke-width="0.8"/>
<line x1="167.6" y1="125.7" x2="167.6" y2="128.7" stroke="#8a8a8a" stroke-width="0.8"/>
<text x="167.6" y="137.4" text-anchor="middle" font-family="'Liberation Sans', sans-serif" font-weight="bold" font-size="8.2" fill="#333">2.2</text>
<line x1="185.6" y1="125.7" x2="185.6" y2="127.5" stroke="#8a8a8a" stroke-width="0.8"/>
<line x1="203.6" y1="125.7" x2="203.6" y2="128.7" stroke="#8a8a8a" stroke-width="0.8"/>
<text x="203.6" y="137.4" text-anchor="middle" font-family="'Liberation Sans', sans-serif" font-weight="bold" font-size="8.2" fill="#333">2.4</text>
<line x1="221.6" y1="125.7" x2="221.6" y2="127.5" stroke="#8a8a8a" stroke-width="0.8"/>
<line x1="239.6" y1="125.7" x2="239.6" y2="128.7" stroke="#8a8a8a" stroke-width="0.8"/>
<text x="239.6" y="137.4" text-anchor="middle" font-family="'Liberation Sans', sans-serif" font-weight="bold" font-size="8.2" fill="#333">2.6</text>
<line x1="257.6" y1="125.7" x2="257.6" y2="127.5" stroke="#8a8a8a" stroke-width="0.8"/>
<line x1="275.6" y1="125.7" x2="275.6" y2="128.7" stroke="#8a8a8a" stroke-width="0.8"/>
<text x="275.6" y="137.4" text-anchor="middle" font-family="'Liberation Sans', sans-serif" font-weight="bold" font-size="8.2" fill="#333">2.8</text>
<line x1="293.6" y1="125.7" x2="293.6" y2="127.5" stroke="#8a8a8a" stroke-width="0.8"/>
<line x1="311.6" y1="125.7" x2="311.6" y2="128.7" stroke="#8a8a8a" stroke-width="0.8"/>
<text x="311.6" y="137.4" text-anchor="middle" font-family="'Liberation Sans', sans-serif" font-weight="bold" font-size="8.2" fill="#333">3.0</text>
<line x1="329.6" y1="125.7" x2="329.6" y2="127.5" stroke="#8a8a8a" stroke-width="0.8"/>
<line x1="347.6" y1="125.7" x2="347.6" y2="128.7" stroke="#8a8a8a" stroke-width="0.8"/>
<text x="347.6" y="137.4" text-anchor="middle" font-family="'Liberation Sans', sans-serif" font-weight="bold" font-size="8.2" fill="#333">3.2</text>
<line x1="365.6" y1="125.7" x2="365.6" y2="127.5" stroke="#8a8a8a" stroke-width="0.8"/>
<line x1="54.5" y1="27.8" x2="54.5" y2="25.3" stroke="#8a8a8a" stroke-width="0.8"/>
<text x="54.5" y="23.2" text-anchor="middle" font-family="'Liberation Sans', sans-serif" font-weight="bold" font-size="8.2" fill="#333">800</text>
<line x1="73.0" y1="27.8" x2="73.0" y2="26.3" stroke="#8a8a8a" stroke-width="0.8"/>
<line x1="94.0" y1="27.8" x2="94.0" y2="25.3" stroke="#8a8a8a" stroke-width="0.8"/>
<text x="94.0" y="23.2" text-anchor="middle" font-family="'Liberation Sans', sans-serif" font-weight="bold" font-size="8.2" fill="#333">700</text>
<line x1="118.3" y1="27.8" x2="118.3" y2="26.3" stroke="#8a8a8a" stroke-width="0.8"/>
<line x1="146.6" y1="27.8" x2="146.6" y2="25.3" stroke="#8a8a8a" stroke-width="0.8"/>
<text x="146.6" y="23.2" text-anchor="middle" font-family="'Liberation Sans', sans-serif" font-weight="bold" font-size="8.2" fill="#333">600</text>
<line x1="180.1" y1="27.8" x2="180.1" y2="26.3" stroke="#8a8a8a" stroke-width="0.8"/>
<line x1="220.3" y1="27.8" x2="220.3" y2="25.3" stroke="#8a8a8a" stroke-width="0.8"/>
<text x="220.3" y="23.2" text-anchor="middle" font-family="'Liberation Sans', sans-serif" font-weight="bold" font-size="8.2" fill="#333">500</text>
<line x1="269.5" y1="27.8" x2="269.5" y2="26.3" stroke="#8a8a8a" stroke-width="0.8"/>
<line x1="330.9" y1="27.8" x2="330.9" y2="25.3" stroke="#8a8a8a" stroke-width="0.8"/>
<text x="330.9" y="23.2" text-anchor="middle" font-family="'Liberation Sans', sans-serif" font-weight="bold" font-size="8.2" fill="#333">400</text>
<text x="199.7" y="11.7" text-anchor="middle" textLength="67.5" lengthAdjust="spacingAndGlyphs" font-family="'Liberation Sans', sans-serif" font-size="9.8" fill="#333" stroke="#333" stroke-width="0.25">Wavelength (nm)</text>
<text x="198.5" y="149.2" text-anchor="middle" textLength="83" lengthAdjust="spacingAndGlyphs" font-family="'Liberation Sans', sans-serif" font-size="10" fill="#333" stroke="#333" stroke-width="0.25">Photon energy (eV)</text>
<text transform="translate(16.6,72.6) rotate(-90)" text-anchor="middle" textLength="75.5" lengthAdjust="spacingAndGlyphs" font-family="'Liberation Sans', sans-serif" font-size="9.2" fill="#333" stroke="#333" stroke-width="0.25">PL intensity (Norm.)</text>
</g>
<g id="pc">
<text x="7.2" y="163.6" font-family="'Liberation Serif', serif" font-size="16" fill="#222">(c)</text>
<line x1="17.6" y1="171.2" x2="37.5" y2="171.2" stroke="#333" stroke-width="1.2"/>
<line x1="56.3" y1="171.2" x2="365.6" y2="171.2" stroke="#666" stroke-width="1.2"/>
<text x="39.6" y="174.2" font-family="'Liberation Sans', sans-serif" font-style="italic" font-size="8.5" fill="#222">E</text>
<text x="45.3" y="176" font-family="'Liberation Sans', sans-serif" font-size="5.5" fill="#222">vac</text>
<line x1="20.9" y1="171.2" x2="20.9" y2="297" stroke="#111" stroke-width="1.3"/>
<path d="M18.6,294.5 L20.9,301 L23.2,294.5 Z" fill="#111"/>
<line x1="17.8" y1="185.9" x2="25" y2="185.9" stroke="#111" stroke-width="1.1"/>
<text x="14.2" y="188.9" text-anchor="end" font-family="'Liberation Sans', sans-serif" font-size="8.4" fill="#222">1</text>
<line x1="17.8" y1="200.5" x2="25" y2="200.5" stroke="#111" stroke-width="1.1"/>
<text x="14.2" y="203.5" text-anchor="end" font-family="'Liberation Sans', sans-serif" font-size="8.4" fill="#222">2</text>
<line x1="17.8" y1="215.2" x2="25" y2="215.2" stroke="#111" stroke-width="1.1"/>
<text x="14.2" y="218.2" text-anchor="end" font-family="'Liberation Sans', sans-serif" font-size="8.4" fill="#222">3</text>
<line x1="17.8" y1="229.8" x2="25" y2="229.8" stroke="#111" stroke-width="1.1"/>
<text x="14.2" y="232.8" text-anchor="end" font-family="'Liberation Sans', sans-serif" font-size="8.4" fill="#222">4</text>
<line x1="17.8" y1="244.5" x2="25" y2="244.5" stroke="#111" stroke-width="1.1"/>
<text x="14.2" y="247.5" text-anchor="end" font-family="'Liberation Sans', sans-serif" font-size="8.4" fill="#222">5</text>
<line x1="17.8" y1="259.2" x2="25" y2="259.2" stroke="#111" stroke-width="1.1"/>
<text x="14.2" y="262.2" text-anchor="end" font-family="'Liberation Sans', sans-serif" font-size="8.4" fill="#222">6</text>
<line x1="17.8" y1="273.8" x2="25" y2="273.8" stroke="#111" stroke-width="1.1"/>
<text x="14.2" y="276.8" text-anchor="end" font-family="'Liberation Sans', sans-serif" font-size="8.4" fill="#222">7</text>
<line x1="17.8" y1="288.5" x2="25" y2="288.5" stroke="#111" stroke-width="1.1"/>
<text x="14.2" y="291.5" text-anchor="end" font-family="'Liberation Sans', sans-serif" font-size="8.4" fill="#222">8</text>
<text x="26.8" y="300.9" textLength="22" lengthAdjust="spacingAndGlyphs" font-family="'Liberation Sans', sans-serif" font-size="8.8" fill="#222"><tspan font-style="italic">E</tspan> (eV)</text>
<rect x="36.00" y="227.6" width="14.4" height="52.7" fill="#0b600f"/>
<rect x="37.90" y="243.1" width="10.6" height="21.8" fill="#fff" fill-opacity="0.18"/>
<rect x="38.50" y="243.7" width="9.4" height="20.6" fill="#fff" fill-opacity="0.3"/>
<rect x="39.10" y="244.3" width="8.2" height="19.4" fill="#88bc90"/>
<text transform="translate(46.00,254.0) rotate(-90)" text-anchor="middle" font-family="'Liberation Sans', sans-serif" font-size="7.8" fill="#222">3.55</text>
<text x="43.20" y="225.8" text-anchor="middle" font-family="'Liberation Sans', sans-serif" font-size="7" fill="#222">3.83</text>
<text x="43.20" y="288.0" text-anchor="middle" font-family="'Liberation Sans', sans-serif" font-size="7" fill="#222">7.33</text>
<text transform="translate(44.20,210.8) rotate(-90)" font-family="'Liberation Sans', sans-serif" font-size="7.8" fill="#1a8a3a" stroke="#1a8a3a" stroke-width="0.3">FASnCl<tspan font-size="5.5" dy="1.8">3</tspan></text>
<rect x="54.25" y="220.8" width="14.4" height="52.6" fill="#0a8a14"/>
<rect x="56.15" y="238.3" width="10.6" height="17.4" fill="#fff" fill-opacity="0.18"/>
<rect x="56.75" y="238.9" width="9.4" height="16.2" fill="#fff" fill-opacity="0.3"/>
<rect x="57.35" y="239.5" width="8.2" height="15.0" fill="#94d0a0"/>
<text transform="translate(64.25,247.0) rotate(-90)" text-anchor="middle" font-family="'Liberation Sans', sans-serif" font-size="7.8" fill="#222">3.5</text>
<text x="61.45" y="219.0" text-anchor="middle" font-family="'Liberation Sans', sans-serif" font-size="7" fill="#222">3.36</text>
<text x="61.45" y="280.9" text-anchor="middle" font-family="'Liberation Sans', sans-serif" font-size="7" fill="#222">6.85</text>
<text transform="translate(62.45,210.8) rotate(-90)" font-family="'Liberation Sans', sans-serif" font-size="7.8" fill="#10903a" stroke="#10903a" stroke-width="0.3">MASnCl<tspan font-size="5.5" dy="1.8">3</tspan></text>
<rect x="72.50" y="226.8" width="14.4" height="47.6" fill="#a024f0"/>
<rect x="74.40" y="239.7" width="10.6" height="21.8" fill="#fff" fill-opacity="0.18"/>
<rect x="75.00" y="240.3" width="9.4" height="20.6" fill="#fff" fill-opacity="0.3"/>
<rect x="75.60" y="240.9" width="8.2" height="19.4" fill="#e2b4fa"/>
<text transform="translate(82.50,250.6) rotate(-90)" text-anchor="middle" font-family="'Liberation Sans', sans-serif" font-size="7.8" fill="#222">3.04</text>
<text x="79.70" y="225.0" text-anchor="middle" font-family="'Liberation Sans', sans-serif" font-size="7" fill="#222">3.77</text>
<text x="79.70" y="281.9" text-anchor="middle" font-family="'Liberation Sans', sans-serif" font-size="7" fill="#222">6.92</text>
<text transform="translate(80.70,210.8) rotate(-90)" font-family="'Liberation Sans', sans-serif" font-size="7.8" fill="#b040f0" stroke="#b040f0" stroke-width="0.3">MAPbCl<tspan font-size="5.5" dy="1.8">3</tspan></text>
<rect x="90.75" y="229.8" width="14.4" height="44.8" fill="#8c0a86"/>
<rect x="92.65" y="241.4" width="10.6" height="21.8" fill="#fff" fill-opacity="0.18"/>
<rect x="93.25" y="242.0" width="9.4" height="20.6" fill="#fff" fill-opacity="0.3"/>
<rect x="93.85" y="242.6" width="8.2" height="19.4" fill="#dca4d6"/>
<text transform="translate(100.75,252.2) rotate(-90)" text-anchor="middle" font-family="'Liberation Sans', sans-serif" font-size="7.8" fill="#222">3.02</text>
<text x="97.95" y="228.0" text-anchor="middle" font-family="'Liberation Sans', sans-serif" font-size="7" fill="#222">3.98</text>
<text x="97.95" y="282.2" text-anchor="middle" font-family="'Liberation Sans', sans-serif" font-size="7" fill="#222">6.94</text>
<text transform="translate(98.95,210.8) rotate(-90)" font-family="'Liberation Sans', sans-serif" font-size="7.8" fill="#b040b0" stroke="#b040b0" stroke-width="0.3">FAPbCl<tspan font-size="5.5" dy="1.8">3</tspan></text>
<rect x="109.00" y="226.8" width="14.4" height="45.8" fill="#8c9ef8"/>
<rect x="110.90" y="238.8" width="10.6" height="21.8" fill="#fff" fill-opacity="0.18"/>
<rect x="111.50" y="239.4" width="9.4" height="20.6" fill="#fff" fill-opacity="0.3"/>
<rect x="112.10" y="240.0" width="8.2" height="19.4" fill="#e2e6fa"/>
<text transform="translate(119.00,249.7) rotate(-90)" text-anchor="middle" font-family="'Liberation Sans', sans-serif" font-size="7.8" fill="#222">2.99</text>
<text x="116.20" y="225.0" text-anchor="middle" font-family="'Liberation Sans', sans-serif" font-size="7" fill="#222">3.77</text>
<text x="116.20" y="280.2" text-anchor="middle" font-family="'Liberation Sans', sans-serif" font-size="7" fill="#222">6.8</text>
<text transform="translate(117.20,210.8) rotate(-90)" font-family="'Liberation Sans', sans-serif" font-size="7.8" fill="#a0a8f8" stroke="#a0a8f8" stroke-width="0.3">CsPbCl<tspan font-size="5.5" dy="1.8">3</tspan></text>
<rect x="127.25" y="222.4" width="14.4" height="44.9" fill="#90e050"/>
<rect x="129.15" y="234.0" width="10.6" height="21.8" fill="#fff" fill-opacity="0.18"/>
<rect x="129.75" y="234.6" width="9.4" height="20.6" fill="#fff" fill-opacity="0.3"/>
<rect x="130.35" y="235.2" width="8.2" height="19.4" fill="#e8f8d4"/>
<text transform="translate(137.25,244.8) rotate(-90)" text-anchor="middle" font-family="'Liberation Sans', sans-serif" font-size="7.8" fill="#222">2.88</text>
<text x="134.45" y="220.6" text-anchor="middle" font-family="'Liberation Sans', sans-serif" font-size="7" fill="#222">3.47</text>
<text x="134.45" y="274.9" text-anchor="middle" font-family="'Liberation Sans', sans-serif" font-size="7" fill="#222">6.44</text>
<text transform="translate(135.45,210.8) rotate(-90)" font-family="'Liberation Sans', sans-serif" font-size="7.8" fill="#a8e080" stroke="#a8e080" stroke-width="0.3">CsSnCl<tspan font-size="5.5" dy="1.8">3</tspan></text>
<rect x="145.50" y="224.3" width="14.4" height="40.0" fill="#c81414"/>
<rect x="147.40" y="233.4" width="10.6" height="21.8" fill="#fff" fill-opacity="0.18"/>
<rect x="148.00" y="234.0" width="9.4" height="20.6" fill="#fff" fill-opacity="0.3"/>
<rect x="148.60" y="234.6" width="8.2" height="19.4" fill="#f4b4b4"/>
<text transform="translate(155.50,244.3) rotate(-90)" text-anchor="middle" font-family="'Liberation Sans', sans-serif" font-size="7.8" fill="#222">2.63</text>
<text x="152.70" y="222.5" text-anchor="middle" font-family="'Liberation Sans', sans-serif" font-size="7" fill="#222">3.6</text>
<text x="152.70" y="271.8" text-anchor="middle" font-family="'Liberation Sans', sans-serif" font-size="7" fill="#222">6.23</text>
<text transform="translate(153.70,210.8) rotate(-90)" font-family="'Liberation Sans', sans-serif" font-size="7.8" fill="#d03030" stroke="#d03030" stroke-width="0.3">FASnBr<tspan font-size="5.5" dy="1.8">3</tspan></text>
<rect x="163.75" y="232.6" width="14.4" height="36.0" fill="#50c8f8"/>
<rect x="165.65" y="239.7" width="10.6" height="21.8" fill="#fff" fill-opacity="0.18"/>
<rect x="166.25" y="240.3" width="9.4" height="20.6" fill="#fff" fill-opacity="0.3"/>
<rect x="166.85" y="240.9" width="8.2" height="19.4" fill="#d4f2fc"/>
<text transform="translate(173.75,250.6) rotate(-90)" text-anchor="middle" font-family="'Liberation Sans', sans-serif" font-size="7.8" fill="#222">2.31</text>
<text x="170.95" y="230.8" text-anchor="middle" font-family="'Liberation Sans', sans-serif" font-size="7" fill="#222">4.17</text>
<text x="170.95" y="276.2" text-anchor="middle" font-family="'Liberation Sans', sans-serif" font-size="7" fill="#222">6.53</text>
<text transform="translate(171.95,210.8) rotate(-90)" font-family="'Liberation Sans', sans-serif" font-size="7.8" fill="#90d8f8" stroke="#90d8f8" stroke-width="0.3">CsPbBr<tspan font-size="5.5" dy="1.8">3</tspan></text>
<rect x="182.00" y="233.8" width="14.4" height="35.9" fill="#106cb8"/>
<rect x="183.90" y="240.8" width="10.6" height="21.8" fill="#fff" fill-opacity="0.18"/>
<rect x="184.50" y="241.4" width="9.4" height="20.6" fill="#fff" fill-opacity="0.3"/>
<rect x="185.10" y="242.0" width="8.2" height="19.4" fill="#9cc8e8"/>
<text transform="translate(192.00,251.7) rotate(-90)" text-anchor="middle" font-family="'Liberation Sans', sans-serif" font-size="7.8" fill="#222">2.30</text>
<text x="189.20" y="232.0" text-anchor="middle" font-family="'Liberation Sans', sans-serif" font-size="7" fill="#222">4.25</text>
<text x="189.20" y="277.3" text-anchor="middle" font-family="'Liberation Sans', sans-serif" font-size="7" fill="#222">6.6</text>
<text transform="translate(190.20,210.8) rotate(-90)" font-family="'Liberation Sans', sans-serif" font-size="7.8" fill="#1070b0" stroke="#1070b0" stroke-width="0.3">MAPbBr<tspan font-size="5.5" dy="1.8">3</tspan></text>
<rect x="200.25" y="237.6" width="14.4" height="33.5" fill="#0a1a88"/>
<rect x="202.15" y="243.5" width="10.6" height="21.8" fill="#fff" fill-opacity="0.18"/>
<rect x="202.75" y="244.1" width="9.4" height="20.6" fill="#fff" fill-opacity="0.3"/>
<rect x="203.35" y="244.7" width="8.2" height="19.4" fill="#9ca8dc"/>
<text transform="translate(210.25,254.4) rotate(-90)" text-anchor="middle" font-family="'Liberation Sans', sans-serif" font-size="7.8" fill="#222">2.25</text>
<text x="207.45" y="235.8" text-anchor="middle" font-family="'Liberation Sans', sans-serif" font-size="7" fill="#222">4.51</text>
<text x="207.45" y="278.7" text-anchor="middle" font-family="'Liberation Sans', sans-serif" font-size="7" fill="#222">6.7</text>
<text transform="translate(208.45,210.8) rotate(-90)" font-family="'Liberation Sans', sans-serif" font-size="7.8" fill="#3040a0" stroke="#3040a0" stroke-width="0.3">FAPbBr<tspan font-size="5.5" dy="1.8">3</tspan></text>
<rect x="218.50" y="221.6" width="14.4" height="34.4" fill="#f01020"/>
<rect x="220.40" y="227.9" width="10.6" height="21.8" fill="#fff" fill-opacity="0.18"/>
<rect x="221.00" y="228.5" width="9.4" height="20.6" fill="#fff" fill-opacity="0.3"/>
<rect x="221.60" y="229.1" width="8.2" height="19.4" fill="#faa8a8"/>
<text transform="translate(228.50,238.8) rotate(-90)" text-anchor="middle" font-family="'Liberation Sans', sans-serif" font-size="7.8" fill="#222">2.13</text>
<text x="225.70" y="219.8" text-anchor="middle" font-family="'Liberation Sans', sans-serif" font-size="7" fill="#222">3.42</text>
<text x="225.70" y="263.6" text-anchor="middle" font-family="'Liberation Sans', sans-serif" font-size="7" fill="#222">5.67</text>
<text transform="translate(226.70,210.8) rotate(-90)" font-family="'Liberation Sans', sans-serif" font-size="7.8" fill="#f03040" stroke="#f03040" stroke-width="0.3">MASnBr<tspan font-size="5.5" dy="1.8">3</tspan></text>
<rect x="236.75" y="231.2" width="14.4" height="27.1" fill="#f8c0c8"/>
<rect x="238.65" y="233.8" width="10.6" height="21.8" fill="#fff" fill-opacity="0.18"/>
<rect x="239.25" y="234.4" width="9.4" height="20.6" fill="#fff" fill-opacity="0.3"/>
<rect x="239.85" y="235.0" width="8.2" height="19.4" fill="#fde6ea"/>
<text transform="translate(246.75,244.7) rotate(-90)" text-anchor="middle" font-family="'Liberation Sans', sans-serif" font-size="7.8" fill="#222">1.81</text>
<text x="243.95" y="229.4" text-anchor="middle" font-family="'Liberation Sans', sans-serif" font-size="7" fill="#222">4.07</text>
<text x="243.95" y="265.8" text-anchor="middle" font-family="'Liberation Sans', sans-serif" font-size="7" fill="#222">5.82</text>
<text transform="translate(244.95,210.8) rotate(-90)" font-family="'Liberation Sans', sans-serif" font-size="7.8" fill="#f8b8c0" stroke="#f8b8c0" stroke-width="0.3">CsSnBr<tspan font-size="5.5" dy="1.8">3</tspan></text>
<rect x="255.00" y="237.0" width="14.4" height="27.5" fill="#40e0e0"/>
<rect x="256.90" y="239.9" width="10.6" height="21.8" fill="#fff" fill-opacity="0.18"/>
<rect x="257.50" y="240.5" width="9.4" height="20.6" fill="#fff" fill-opacity="0.3"/>
<rect x="258.10" y="241.1" width="8.2" height="19.4" fill="#d0fafa"/>
<text transform="translate(265.00,250.8) rotate(-90)" text-anchor="middle" font-family="'Liberation Sans', sans-serif" font-size="7.8" fill="#222">1.72</text>
<text x="262.20" y="235.2" text-anchor="middle" font-family="'Liberation Sans', sans-serif" font-size="7" fill="#222">4.47</text>
<text x="262.20" y="272.1" text-anchor="middle" font-family="'Liberation Sans', sans-serif" font-size="7" fill="#222">6.25</text>
<text transform="translate(263.20,210.8) rotate(-90)" font-family="'Liberation Sans', sans-serif" font-size="7.8" fill="#70e0e0" stroke="#70e0e0" stroke-width="0.3">CsPbI<tspan font-size="5.5" dy="1.8">3</tspan></text>
<rect x="273.25" y="235.4" width="14.4" height="24.4" fill="#30c0b8"/>
<rect x="275.15" y="236.7" width="10.6" height="21.8" fill="#fff" fill-opacity="0.18"/>
<rect x="275.75" y="237.3" width="9.4" height="20.6" fill="#fff" fill-opacity="0.3"/>
<rect x="276.35" y="237.9" width="8.2" height="19.4" fill="#b8eee8"/>
<text transform="translate(283.25,247.6) rotate(-90)" text-anchor="middle" font-family="'Liberation Sans', sans-serif" font-size="7.8" fill="#222">1.59</text>
<text x="280.45" y="233.6" text-anchor="middle" font-family="'Liberation Sans', sans-serif" font-size="7" fill="#222">4.36</text>
<text x="280.45" y="267.4" text-anchor="middle" font-family="'Liberation Sans', sans-serif" font-size="7" fill="#222">5.93</text>
<text transform="translate(281.45,210.8) rotate(-90)" font-family="'Liberation Sans', sans-serif" font-size="7.8" fill="#20c0c0" stroke="#20c0c0" stroke-width="0.3">MAPbI<tspan font-size="5.5" dy="1.8">3</tspan></text>
<rect x="291.50" y="241.0" width="14.4" height="23.4" fill="#107870"/>
<rect x="293.40" y="241.8" width="10.6" height="21.8" fill="#fff" fill-opacity="0.18"/>
<rect x="294.00" y="242.4" width="9.4" height="20.6" fill="#fff" fill-opacity="0.3"/>
<rect x="294.60" y="243.0" width="8.2" height="19.4" fill="#a8d4ce"/>
<text transform="translate(301.50,252.7) rotate(-90)" text-anchor="middle" font-family="'Liberation Sans', sans-serif" font-size="7.8" fill="#222">1.51</text>
<text x="298.70" y="239.2" text-anchor="middle" font-family="'Liberation Sans', sans-serif" font-size="7" fill="#222">4.74</text>
<text x="298.70" y="272.0" text-anchor="middle" font-family="'Liberation Sans', sans-serif" font-size="7" fill="#222">6.24</text>
<text transform="translate(299.70,210.8) rotate(-90)" font-family="'Liberation Sans', sans-serif" font-size="7.8" fill="#208888" stroke="#208888" stroke-width="0.3">FAPbI<tspan font-size="5.5" dy="1.8">3</tspan></text>
<rect x="309.75" y="235.7" width="14.4" height="20.6" fill="#f8e0b0"/>
<rect x="311.65" y="235.7" width="10.6" height="20.6" fill="#fff" fill-opacity="0.18"/>
<rect x="312.25" y="236.3" width="9.4" height="19.4" fill="#fff" fill-opacity="0.3"/>
<rect x="312.85" y="236.9" width="8.2" height="18.2" fill="#fdf4e0"/>
<text transform="translate(319.75,246.0) rotate(-90)" text-anchor="middle" font-family="'Liberation Sans', sans-serif" font-size="7.8" fill="#222">1.25</text>
<text x="316.95" y="233.9" text-anchor="middle" font-family="'Liberation Sans', sans-serif" font-size="7" fill="#222">4.38</text>
<text x="316.95" y="263.9" text-anchor="middle" font-family="'Liberation Sans', sans-serif" font-size="7" fill="#222">5.69</text>
<text transform="translate(317.95,210.8) rotate(-90)" font-family="'Liberation Sans', sans-serif" font-size="7.8" fill="#f0d8a8" stroke="#f0d8a8" stroke-width="0.3">CsSnI<tspan font-size="5.5" dy="1.8">3</tspan></text>
<rect x="328.00" y="231.2" width="14.4" height="20.8" fill="#f08020"/>
<rect x="329.90" y="231.2" width="10.6" height="20.8" fill="#fff" fill-opacity="0.18"/>
<rect x="330.50" y="231.8" width="9.4" height="19.6" fill="#fff" fill-opacity="0.3"/>
<rect x="331.10" y="232.4" width="8.2" height="18.4" fill="#fad4a4"/>
<text transform="translate(338.00,241.5) rotate(-90)" text-anchor="middle" font-family="'Liberation Sans', sans-serif" font-size="7.8" fill="#222">1.24</text>
<text x="335.20" y="229.4" text-anchor="middle" font-family="'Liberation Sans', sans-serif" font-size="7" fill="#222">4.07</text>
<text x="335.20" y="259.5" text-anchor="middle" font-family="'Liberation Sans', sans-serif" font-size="7" fill="#222">5.39</text>
<text transform="translate(336.20,210.8) rotate(-90)" font-family="'Liberation Sans', sans-serif" font-size="7.8" fill="#f09030" stroke="#f09030" stroke-width="0.3">MASnI<tspan font-size="5.5" dy="1.8">3</tspan></text>
<rect x="346.25" y="231.9" width="14.4" height="19.3" fill="#b08040"/>
<rect x="348.15" y="231.9" width="10.6" height="19.3" fill="#fff" fill-opacity="0.18"/>
<rect x="348.75" y="232.5" width="9.4" height="18.1" fill="#fff" fill-opacity="0.3"/>
<rect x="349.35" y="233.1" width="8.2" height="16.9" fill="#e6cca0"/>
<text transform="translate(356.25,241.5) rotate(-90)" text-anchor="middle" font-family="'Liberation Sans', sans-serif" font-size="7.8" fill="#222">1.24</text>
<text x="353.45" y="230.1" text-anchor="middle" font-family="'Liberation Sans', sans-serif" font-size="7" fill="#222">4.12</text>
<text x="353.45" y="258.8" text-anchor="middle" font-family="'Liberation Sans', sans-serif" font-size="7" fill="#222">5.34</text>
<text transform="translate(354.45,210.8) rotate(-90)" font-family="'Liberation Sans', sans-serif" font-size="7.8" fill="#b09050" stroke="#b09050" stroke-width="0.3">FASnI<tspan font-size="5.5" dy="1.8">3</tspan></text>
</g>
<g id="pd">
<text x="382.5" y="164.1" font-family="'Liberation Serif', serif" font-size="16" fill="#222">(d)</text>
<defs>
<linearGradient id="g0"><stop offset="0.000" stop-color="#00ff8e"/><stop offset="0.038" stop-color="#00ff88"/><stop offset="0.077" stop-color="#00ff80"/><stop offset="0.115" stop-color="#00ff78"/><stop offset="0.154" stop-color="#00ff6e"/><stop offset="0.192" stop-color="#00ff63"/><stop offset="0.231" stop-color="#00ff54"/><stop offset="0.269" stop-color="#00ff42"/><stop offset="0.308" stop-color="#00ff28"/><stop offset="0.346" stop-color="#00ff00"/><stop offset="0.385" stop-color="#00ff00"/><stop offset="0.423" stop-color="#00ff00"/><stop offset="0.462" stop-color="#00ff00"/><stop offset="0.500" stop-color="#26ff00"/><stop offset="0.538" stop-color="#4eff00"/><stop offset="0.577" stop-color="#6cff00"/><stop offset="0.615" stop-color="#87ff00"/><stop offset="0.654" stop-color="#a0ff00"/><stop offset="0.692" stop-color="#b7ff00"/><stop offset="0.731" stop-color="#cdff00"/><stop offset="0.769" stop-color="#e4ff00"/><stop offset="0.808" stop-color="#faff00"/><stop offset="0.846" stop-color="#ffef00"/><stop offset="0.885" stop-color="#ffdd00"/><stop offset="0.923" stop-color="#ffce00"/><stop offset="0.962" stop-color="#ffc000"/><stop offset="1.000" stop-color="#ffb300"/></linearGradient>
<linearGradient id="g1"><stop offset="0.000" stop-color="#00ff91"/><stop offset="0.038" stop-color="#00ff8a"/><stop offset="0.077" stop-color="#00ff83"/><stop offset="0.115" stop-color="#00ff7b"/><stop offset="0.154" stop-color="#00ff71"/><stop offset="0.192" stop-color="#00ff66"/><stop offset="0.231" stop-color="#00ff58"/><stop offset="0.269" stop-color="#00ff46"/><stop offset="0.308" stop-color="#00ff2c"/><stop offset="0.346" stop-color="#00ff00"/><stop offset="0.385" stop-color="#00ff00"/><stop offset="0.423" stop-color="#00ff00"/><stop offset="0.462" stop-color="#00ff00"/><stop offset="0.500" stop-color="#30ff00"/><stop offset="0.538" stop-color="#56ff00"/><stop offset="0.577" stop-color="#74ff00"/><stop offset="0.615" stop-color="#8eff00"/><stop offset="0.654" stop-color="#a7ff00"/><stop offset="0.692" stop-color="#bfff00"/><stop offset="0.731" stop-color="#d6ff00"/><stop offset="0.769" stop-color="#edff00"/><stop offset="0.808" stop-color="#fffb00"/><stop offset="0.846" stop-color="#ffe700"/><stop offset="0.885" stop-color="#ffd500"/><stop offset="0.923" stop-color="#ffc600"/><stop offset="0.962" stop-color="#ffb900"/><stop offset="1.000" stop-color="#ffad00"/></linearGradient>
<linearGradient id="g2"><stop offset="0.000" stop-color="#00ff93"/><stop offset="0.038" stop-color="#00ff8d"/><stop offset="0.077" stop-color="#00ff86"/><stop offset="0.115" stop-color="#00ff7e"/><stop offset="0.154" stop-color="#00ff74"/><stop offset="0.192" stop-color="#00ff69"/><stop offset="0.231" stop-color="#00ff5b"/><stop offset="0.269" stop-color="#00ff49"/><stop offset="0.308" stop-color="#00ff30"/><stop offset="0.346" stop-color="#00ff00"/><stop offset="0.385" stop-color="#00ff00"/><stop offset="0.423" stop-color="#00ff00"/><stop offset="0.462" stop-color="#00ff00"/><stop offset="0.500" stop-color="#3aff00"/><stop offset="0.538" stop-color="#5eff00"/><stop offset="0.577" stop-color="#7cff00"/><stop offset="0.615" stop-color="#96ff00"/><stop offset="0.654" stop-color="#afff00"/><stop offset="0.692" stop-color="#c7ff00"/><stop offset="0.731" stop-color="#dfff00"/><stop offset="0.769" stop-color="#f6ff00"/><stop offset="0.808" stop-color="#fff100"/><stop offset="0.846" stop-color="#ffde00"/><stop offset="0.885" stop-color="#ffcd00"/><stop offset="0.923" stop-color="#ffbf00"/><stop offset="0.962" stop-color="#ffb200"/><stop offset="1.000" stop-color="#ffa600"/></linearGradient>
<linearGradient id="g3"><stop offset="0.000" stop-color="#00ff96"/><stop offset="0.038" stop-color="#00ff90"/><stop offset="0.077" stop-color="#00ff89"/><stop offset="0.115" stop-color="#00ff81"/><stop offset="0.154" stop-color="#00ff77"/><stop offset="0.192" stop-color="#00ff6c"/><stop offset="0.231" stop-color="#00ff5e"/><stop offset="0.269" stop-color="#00ff4d"/><stop offset="0.308" stop-color="#00ff34"/><stop offset="0.346" stop-color="#00ff00"/><stop offset="0.385" stop-color="#00ff00"/><stop offset="0.423" stop-color="#00ff00"/><stop offset="0.462" stop-color="#05ff00"/><stop offset="0.500" stop-color="#43ff00"/><stop offset="0.538" stop-color="#66ff00"/><stop offset="0.577" stop-color="#83ff00"/><stop offset="0.615" stop-color="#9eff00"/><stop offset="0.654" stop-color="#b8ff00"/><stop offset="0.692" stop-color="#d0ff00"/><stop offset="0.731" stop-color="#e8ff00"/><stop offset="0.769" stop-color="#fffe00"/><stop offset="0.808" stop-color="#ffe800"/><stop offset="0.846" stop-color="#ffd600"/><stop offset="0.885" stop-color="#ffc600"/><stop offset="0.923" stop-color="#ffb800"/><stop offset="0.962" stop-color="#ffab00"/><stop offset="1.000" stop-color="#ffa000"/></linearGradient>
<linearGradient id="g4"><stop offset="0.000" stop-color="#00ff99"/><stop offset="0.038" stop-color="#00ff93"/><stop offset="0.077" stop-color="#00ff8c"/><stop offset="0.115" stop-color="#00ff84"/><stop offset="0.154" stop-color="#00ff7b"/><stop offset="0.192" stop-color="#00ff6f"/><stop offset="0.231" stop-color="#00ff62"/><stop offset="0.269" stop-color="#00ff50"/><stop offset="0.308" stop-color="#00ff38"/><stop offset="0.346" stop-color="#00ff06"/><stop offset="0.385" stop-color="#00ff00"/><stop offset="0.423" stop-color="#00ff00"/><stop offset="0.462" stop-color="#1bff00"/><stop offset="0.500" stop-color="#4cff00"/><stop offset="0.538" stop-color="#6eff00"/><stop offset="0.577" stop-color="#8bff00"/><stop offset="0.615" stop-color="#a7ff00"/><stop offset="0.654" stop-color="#c0ff00"/><stop offset="0.692" stop-color="#d9ff00"/><stop offset="0.731" stop-color="#f2ff00"/><stop offset="0.769" stop-color="#fff400"/><stop offset="0.808" stop-color="#ffdf00"/><stop offset="0.846" stop-color="#ffcd00"/><stop offset="0.885" stop-color="#ffbe00"/><stop offset="0.923" stop-color="#ffb000"/><stop offset="0.962" stop-color="#ffa400"/><stop offset="1.000" stop-color="#ff9900"/></linearGradient>
<linearGradient id="g5"><stop offset="0.000" stop-color="#00ff9c"/><stop offset="0.038" stop-color="#00ff96"/><stop offset="0.077" stop-color="#00ff8f"/><stop offset="0.115" stop-color="#00ff87"/><stop offset="0.154" stop-color="#00ff7e"/><stop offset="0.192" stop-color="#00ff73"/><stop offset="0.231" stop-color="#00ff65"/><stop offset="0.269" stop-color="#00ff54"/><stop offset="0.308" stop-color="#00ff3c"/><stop offset="0.346" stop-color="#00ff10"/><stop offset="0.385" stop-color="#00ff00"/><stop offset="0.423" stop-color="#00ff00"/><stop offset="0.462" stop-color="#28ff00"/><stop offset="0.500" stop-color="#55ff00"/><stop offset="0.538" stop-color="#76ff00"/><stop offset="0.577" stop-color="#94ff00"/><stop offset="0.615" stop-color="#afff00"/><stop offset="0.654" stop-color="#caff00"/><stop offset="0.692" stop-color="#e3ff00"/><stop offset="0.731" stop-color="#fdff00"/><stop offset="0.769" stop-color="#ffea00"/><stop offset="0.808" stop-color="#ffd600"/><stop offset="0.846" stop-color="#ffc500"/><stop offset="0.885" stop-color="#ffb600"/><stop offset="0.923" stop-color="#ffa900"/><stop offset="0.962" stop-color="#ff9d00"/><stop offset="1.000" stop-color="#ff9300"/></linearGradient>
<linearGradient id="g6"><stop offset="0.000" stop-color="#00ff9f"/><stop offset="0.038" stop-color="#00ff99"/><stop offset="0.077" stop-color="#00ff92"/><stop offset="0.115" stop-color="#00ff8b"/><stop offset="0.154" stop-color="#00ff81"/><stop offset="0.192" stop-color="#00ff76"/><stop offset="0.231" stop-color="#00ff69"/><stop offset="0.269" stop-color="#00ff58"/><stop offset="0.308" stop-color="#00ff40"/><stop offset="0.346" stop-color="#00ff18"/><stop offset="0.385" stop-color="#00ff00"/><stop offset="0.423" stop-color="#00ff00"/><stop offset="0.462" stop-color="#34ff00"/><stop offset="0.500" stop-color="#5eff00"/><stop offset="0.538" stop-color="#7fff00"/><stop offset="0.577" stop-color="#9dff00"/><stop offset="0.615" stop-color="#b8ff00"/><stop offset="0.654" stop-color="#d3ff00"/><stop offset="0.692" stop-color="#eeff00"/><stop offset="0.731" stop-color="#fff600"/><stop offset="0.769" stop-color="#ffe000"/><stop offset="0.808" stop-color="#ffcd00"/><stop offset="0.846" stop-color="#ffbd00"/><stop offset="0.885" stop-color="#ffaf00"/><stop offset="0.923" stop-color="#ffa200"/><stop offset="0.962" stop-color="#ff9700"/><stop offset="1.000" stop-color="#ff8c00"/></linearGradient>
<linearGradient id="g7"><stop offset="0.000" stop-color="#00ffa2"/><stop offset="0.038" stop-color="#00ff9d"/><stop offset="0.077" stop-color="#00ff96"/><stop offset="0.115" stop-color="#00ff8e"/><stop offset="0.154" stop-color="#00ff85"/><stop offset="0.192" stop-color="#00ff7a"/><stop offset="0.231" stop-color="#00ff6d"/><stop offset="0.269" stop-color="#00ff5c"/><stop offset="0.308" stop-color="#00ff45"/><stop offset="0.346" stop-color="#00ff1e"/><stop offset="0.385" stop-color="#00ff00"/><stop offset="0.423" stop-color="#00ff00"/><stop offset="0.462" stop-color="#3fff00"/><stop offset="0.500" stop-color="#67ff00"/><stop offset="0.538" stop-color="#88ff00"/><stop offset="0.577" stop-color="#a6ff00"/><stop offset="0.615" stop-color="#c2ff00"/><stop offset="0.654" stop-color="#deff00"/><stop offset="0.692" stop-color="#f9ff00"/><stop offset="0.731" stop-color="#ffec00"/><stop offset="0.769" stop-color="#ffd600"/><stop offset="0.808" stop-color="#ffc400"/><stop offset="0.846" stop-color="#ffb500"/><stop offset="0.885" stop-color="#ffa700"/><stop offset="0.923" stop-color="#ff9b00"/><stop offset="0.962" stop-color="#ff9000"/><stop offset="1.000" stop-color="#ff8600"/></linearGradient>
<linearGradient id="g8"><stop offset="0.000" stop-color="#00ffa6"/><stop offset="0.038" stop-color="#00ffa0"/><stop offset="0.077" stop-color="#00ff99"/><stop offset="0.115" stop-color="#00ff92"/><stop offset="0.154" stop-color="#00ff89"/><stop offset="0.192" stop-color="#00ff7e"/><stop offset="0.231" stop-color="#00ff71"/><stop offset="0.269" stop-color="#00ff60"/><stop offset="0.308" stop-color="#00ff49"/><stop offset="0.346" stop-color="#00ff24"/><stop offset="0.385" stop-color="#00ff00"/><stop offset="0.423" stop-color="#02ff00"/><stop offset="0.462" stop-color="#49ff00"/><stop offset="0.500" stop-color="#70ff00"/><stop offset="0.538" stop-color="#91ff00"/><stop offset="0.577" stop-color="#afff00"/><stop offset="0.615" stop-color="#ccff00"/><stop offset="0.654" stop-color="#e9ff00"/><stop offset="0.692" stop-color="#fffa00"/><stop offset="0.731" stop-color="#ffe100"/><stop offset="0.769" stop-color="#ffcd00"/><stop offset="0.808" stop-color="#ffbc00"/><stop offset="0.846" stop-color="#ffad00"/><stop offset="0.885" stop-color="#ff9f00"/><stop offset="0.923" stop-color="#ff9400"/><stop offset="0.962" stop-color="#ff8900"/><stop offset="1.000" stop-color="#ff7f00"/></linearGradient>
<linearGradient id="g9"><stop offset="0.000" stop-color="#00ffa9"/><stop offset="0.038" stop-color="#00ffa4"/><stop offset="0.077" stop-color="#00ff9d"/><stop offset="0.115" stop-color="#00ff96"/><stop offset="0.154" stop-color="#00ff8d"/><stop offset="0.192" stop-color="#00ff82"/><stop offset="0.231" stop-color="#00ff75"/><stop offset="0.269" stop-color="#00ff65"/><stop offset="0.308" stop-color="#00ff4e"/><stop offset="0.346" stop-color="#00ff2a"/><stop offset="0.385" stop-color="#00ff00"/><stop offset="0.423" stop-color="#1cff00"/><stop offset="0.462" stop-color="#53ff00"/><stop offset="0.500" stop-color="#7aff00"/><stop offset="0.538" stop-color="#9bff00"/><stop offset="0.577" stop-color="#baff00"/><stop offset="0.615" stop-color="#d7ff00"/><stop offset="0.654" stop-color="#f4ff00"/><stop offset="0.692" stop-color="#ffee00"/><stop offset="0.731" stop-color="#ffd700"/><stop offset="0.769" stop-color="#ffc400"/><stop offset="0.808" stop-color="#ffb300"/><stop offset="0.846" stop-color="#ffa500"/><stop offset="0.885" stop-color="#ff9800"/><stop offset="0.923" stop-color="#ff8c00"/><stop offset="0.962" stop-color="#ff8200"/><stop offset="1.000" stop-color="#ff7800"/></linearGradient>
<linearGradient id="g10"><stop offset="0.000" stop-color="#00ffad"/><stop offset="0.038" stop-color="#00ffa7"/><stop offset="0.077" stop-color="#00ffa1"/><stop offset="0.115" stop-color="#00ff9a"/><stop offset="0.154" stop-color="#00ff91"/><stop offset="0.192" stop-color="#00ff87"/><stop offset="0.231" stop-color="#00ff7a"/><stop offset="0.269" stop-color="#00ff69"/><stop offset="0.308" stop-color="#00ff53"/><stop offset="0.346" stop-color="#00ff30"/><stop offset="0.385" stop-color="#00ff00"/><stop offset="0.423" stop-color="#2cff00"/><stop offset="0.462" stop-color="#5eff00"/><stop offset="0.500" stop-color="#83ff00"/><stop offset="0.538" stop-color="#a5ff00"/><stop offset="0.577" stop-color="#c4ff00"/><stop offset="0.615" stop-color="#e3ff00"/><stop offset="0.654" stop-color="#fffd00"/><stop offset="0.692" stop-color="#ffe300"/><stop offset="0.731" stop-color="#ffcd00"/><stop offset="0.769" stop-color="#ffba00"/><stop offset="0.808" stop-color="#ffaa00"/><stop offset="0.846" stop-color="#ff9c00"/><stop offset="0.885" stop-color="#ff9000"/><stop offset="0.923" stop-color="#ff8500"/><stop offset="0.962" stop-color="#ff7b00"/><stop offset="1.000" stop-color="#ff7100"/></linearGradient>
<linearGradient id="g11"><stop offset="0.000" stop-color="#00ffb0"/><stop offset="0.038" stop-color="#00ffab"/><stop offset="0.077" stop-color="#00ffa5"/><stop offset="0.115" stop-color="#00ff9e"/><stop offset="0.154" stop-color="#00ff95"/><stop offset="0.192" stop-color="#00ff8b"/><stop offset="0.231" stop-color="#00ff7e"/><stop offset="0.269" stop-color="#00ff6e"/><stop offset="0.308" stop-color="#00ff58"/><stop offset="0.346" stop-color="#00ff36"/><stop offset="0.385" stop-color="#00ff00"/><stop offset="0.423" stop-color="#39ff00"/><stop offset="0.462" stop-color="#68ff00"/><stop offset="0.500" stop-color="#8eff00"/><stop offset="0.538" stop-color="#b0ff00"/><stop offset="0.577" stop-color="#d0ff00"/><stop offset="0.615" stop-color="#efff00"/><stop offset="0.654" stop-color="#fff100"/><stop offset="0.692" stop-color="#ffd700"/><stop offset="0.731" stop-color="#ffc300"/><stop offset="0.769" stop-color="#ffb100"/><stop offset="0.808" stop-color="#ffa200"/><stop offset="0.846" stop-color="#ff9400"/><stop offset="0.885" stop-color="#ff8800"/><stop offset="0.923" stop-color="#ff7e00"/><stop offset="0.962" stop-color="#ff7400"/><stop offset="1.000" stop-color="#ff6b00"/></linearGradient>
<linearGradient id="g12"><stop offset="0.000" stop-color="#00ffb4"/><stop offset="0.038" stop-color="#00ffaf"/><stop offset="0.077" stop-color="#00ffa9"/><stop offset="0.115" stop-color="#00ffa2"/><stop offset="0.154" stop-color="#00ff9a"/><stop offset="0.192" stop-color="#00ff90"/><stop offset="0.231" stop-color="#00ff83"/><stop offset="0.269" stop-color="#00ff74"/><stop offset="0.308" stop-color="#00ff5e"/><stop offset="0.346" stop-color="#00ff3d"/><stop offset="0.385" stop-color="#00ff00"/><stop offset="0.423" stop-color="#45ff00"/><stop offset="0.462" stop-color="#73ff00"/><stop offset="0.500" stop-color="#98ff00"/><stop offset="0.538" stop-color="#bbff00"/><stop offset="0.577" stop-color="#dcff00"/><stop offset="0.615" stop-color="#fcff00"/><stop offset="0.654" stop-color="#ffe400"/><stop offset="0.692" stop-color="#ffcc00"/><stop offset="0.731" stop-color="#ffb900"/><stop offset="0.769" stop-color="#ffa800"/><stop offset="0.808" stop-color="#ff9900"/><stop offset="0.846" stop-color="#ff8c00"/><stop offset="0.885" stop-color="#ff8100"/><stop offset="0.923" stop-color="#ff7600"/><stop offset="0.962" stop-color="#ff6c00"/><stop offset="1.000" stop-color="#ff6400"/></linearGradient>
<linearGradient id="g13"><stop offset="0.000" stop-color="#00ffb8"/><stop offset="0.038" stop-color="#00ffb3"/><stop offset="0.077" stop-color="#00ffae"/><stop offset="0.115" stop-color="#00ffa7"/><stop offset="0.154" stop-color="#00ff9f"/><stop offset="0.192" stop-color="#00ff95"/><stop offset="0.231" stop-color="#00ff89"/><stop offset="0.269" stop-color="#00ff79"/><stop offset="0.308" stop-color="#00ff64"/><stop offset="0.346" stop-color="#00ff43"/><stop offset="0.385" stop-color="#00ff00"/><stop offset="0.423" stop-color="#51ff00"/><stop offset="0.462" stop-color="#7eff00"/><stop offset="0.500" stop-color="#a4ff00"/><stop offset="0.538" stop-color="#c7ff00"/><stop offset="0.577" stop-color="#e9ff00"/><stop offset="0.615" stop-color="#fff400"/><stop offset="0.654" stop-color="#ffd800"/><stop offset="0.692" stop-color="#ffc200"/><stop offset="0.731" stop-color="#ffaf00"/><stop offset="0.769" stop-color="#ff9f00"/><stop offset="0.808" stop-color="#ff9100"/><stop offset="0.846" stop-color="#ff8400"/><stop offset="0.885" stop-color="#ff7900"/><stop offset="0.923" stop-color="#ff6f00"/><stop offset="0.962" stop-color="#ff6500"/><stop offset="1.000" stop-color="#ff5c00"/></linearGradient>
<linearGradient id="g14"><stop offset="0.000" stop-color="#00ffbd"/><stop offset="0.038" stop-color="#00ffb8"/><stop offset="0.077" stop-color="#00ffb2"/><stop offset="0.115" stop-color="#00ffac"/><stop offset="0.154" stop-color="#00ffa4"/><stop offset="0.192" stop-color="#00ff9a"/><stop offset="0.231" stop-color="#00ff8e"/><stop offset="0.269" stop-color="#00ff7f"/><stop offset="0.308" stop-color="#00ff6a"/><stop offset="0.346" stop-color="#00ff4a"/><stop offset="0.385" stop-color="#1fff10"/><stop offset="0.423" stop-color="#5dff00"/><stop offset="0.462" stop-color="#89ff00"/><stop offset="0.500" stop-color="#b0ff00"/><stop offset="0.538" stop-color="#d4ff00"/><stop offset="0.577" stop-color="#f7ff00"/><stop offset="0.615" stop-color="#ffe600"/><stop offset="0.654" stop-color="#ffcc00"/><stop offset="0.692" stop-color="#ffb700"/><stop offset="0.731" stop-color="#ffa500"/><stop offset="0.769" stop-color="#ff9600"/><stop offset="0.808" stop-color="#ff8800"/><stop offset="0.846" stop-color="#ff7c00"/><stop offset="0.885" stop-color="#ff7100"/><stop offset="0.923" stop-color="#ff6700"/><stop offset="0.962" stop-color="#ff5e00"/><stop offset="1.000" stop-color="#ff5500"/></linearGradient>
<linearGradient id="g15"><stop offset="0.000" stop-color="#00ffc1"/><stop offset="0.038" stop-color="#00ffbc"/><stop offset="0.077" stop-color="#00ffb7"/><stop offset="0.115" stop-color="#00ffb1"/><stop offset="0.154" stop-color="#00ffa9"/><stop offset="0.192" stop-color="#00ffa0"/><stop offset="0.231" stop-color="#00ff94"/><stop offset="0.269" stop-color="#00ff85"/><stop offset="0.308" stop-color="#00ff71"/><stop offset="0.346" stop-color="#00ff51"/><stop offset="0.385" stop-color="#31ff2a"/><stop offset="0.423" stop-color="#6aff0c"/><stop offset="0.462" stop-color="#95ff00"/><stop offset="0.500" stop-color="#bdff00"/><stop offset="0.538" stop-color="#e2ff00"/><stop offset="0.577" stop-color="#fff700"/><stop offset="0.615" stop-color="#ffd900"/><stop offset="0.654" stop-color="#ffc000"/><stop offset="0.692" stop-color="#ffac00"/><stop offset="0.731" stop-color="#ff9b00"/><stop offset="0.769" stop-color="#ff8c00"/><stop offset="0.808" stop-color="#ff7f00"/><stop offset="0.846" stop-color="#ff7400"/><stop offset="0.885" stop-color="#ff6900"/><stop offset="0.923" stop-color="#ff5f00"/><stop offset="0.962" stop-color="#ff5600"/><stop offset="1.000" stop-color="#ff4d00"/></linearGradient>
<linearGradient id="g16"><stop offset="0.000" stop-color="#00ffc5"/><stop offset="0.038" stop-color="#00ffc1"/><stop offset="0.077" stop-color="#00ffbc"/><stop offset="0.115" stop-color="#00ffb6"/><stop offset="0.154" stop-color="#00ffaf"/><stop offset="0.192" stop-color="#00ffa6"/><stop offset="0.231" stop-color="#00ff9b"/><stop offset="0.269" stop-color="#00ff8c"/><stop offset="0.308" stop-color="#00ff78"/><stop offset="0.346" stop-color="#00ff59"/><stop offset="0.385" stop-color="#40ff3d"/><stop offset="0.423" stop-color="#76ff2a"/><stop offset="0.462" stop-color="#a2ff06"/><stop offset="0.500" stop-color="#caff00"/><stop offset="0.538" stop-color="#f1ff00"/><stop offset="0.577" stop-color="#ffe800"/><stop offset="0.615" stop-color="#ffcc00"/><stop offset="0.654" stop-color="#ffb500"/><stop offset="0.692" stop-color="#ffa200"/><stop offset="0.731" stop-color="#ff9100"/><stop offset="0.769" stop-color="#ff8300"/><stop offset="0.808" stop-color="#ff7600"/><stop offset="0.846" stop-color="#ff6b00"/><stop offset="0.885" stop-color="#ff6000"/><stop offset="0.923" stop-color="#ff5700"/><stop offset="0.962" stop-color="#ff4e00"/><stop offset="1.000" stop-color="#ff4500"/></linearGradient>
<linearGradient id="g17"><stop offset="0.000" stop-color="#00ffca"/><stop offset="0.038" stop-color="#00ffc6"/><stop offset="0.077" stop-color="#00ffc1"/><stop offset="0.115" stop-color="#00ffbc"/><stop offset="0.154" stop-color="#00ffb5"/><stop offset="0.192" stop-color="#00ffac"/><stop offset="0.231" stop-color="#00ffa2"/><stop offset="0.269" stop-color="#00ff94"/><stop offset="0.308" stop-color="#00ff80"/><stop offset="0.346" stop-color="#00ff62"/><stop offset="0.385" stop-color="#4fff4f"/><stop offset="0.423" stop-color="#83ff3f"/><stop offset="0.462" stop-color="#b0ff2a"/><stop offset="0.500" stop-color="#d9ff00"/><stop offset="0.538" stop-color="#fffc00"/><stop offset="0.577" stop-color="#ffda00"/><stop offset="0.615" stop-color="#ffbf00"/><stop offset="0.654" stop-color="#ffa900"/><stop offset="0.692" stop-color="#ff9700"/><stop offset="0.731" stop-color="#ff8700"/><stop offset="0.769" stop-color="#ff7a00"/><stop offset="0.808" stop-color="#ff6d00"/><stop offset="0.846" stop-color="#ff6200"/><stop offset="0.885" stop-color="#ff5800"/><stop offset="0.923" stop-color="#ff4e00"/><stop offset="0.962" stop-color="#ff4500"/><stop offset="1.000" stop-color="#ff3c00"/></linearGradient>
<linearGradient id="g18"><stop offset="0.000" stop-color="#00ffcf"/><stop offset="0.038" stop-color="#00ffcc"/><stop offset="0.077" stop-color="#00ffc7"/><stop offset="0.115" stop-color="#00ffc2"/><stop offset="0.154" stop-color="#00ffbb"/><stop offset="0.192" stop-color="#00ffb3"/><stop offset="0.231" stop-color="#00ffa9"/><stop offset="0.269" stop-color="#00ff9c"/><stop offset="0.308" stop-color="#00ff89"/><stop offset="0.346" stop-color="#00ff6b"/><stop offset="0.385" stop-color="#5dff60"/><stop offset="0.423" stop-color="#91ff53"/><stop offset="0.462" stop-color="#bfff42"/><stop offset="0.500" stop-color="#eaff2b"/><stop offset="0.538" stop-color="#ffeb00"/><stop offset="0.577" stop-color="#ffcb00"/><stop offset="0.615" stop-color="#ffb200"/><stop offset="0.654" stop-color="#ff9e00"/><stop offset="0.692" stop-color="#ff8c00"/><stop offset="0.731" stop-color="#ff7d00"/><stop offset="0.769" stop-color="#ff7000"/><stop offset="0.808" stop-color="#ff6400"/><stop offset="0.846" stop-color="#ff5900"/><stop offset="0.885" stop-color="#ff4f00"/><stop offset="0.923" stop-color="#ff4500"/><stop offset="0.962" stop-color="#ff3c00"/><stop offset="1.000" stop-color="#ff3300"/></linearGradient>
<linearGradient id="g19"><stop offset="0.000" stop-color="#00ffd5"/><stop offset="0.038" stop-color="#00ffd1"/><stop offset="0.077" stop-color="#00ffcd"/><stop offset="0.115" stop-color="#00ffc8"/><stop offset="0.154" stop-color="#00ffc2"/><stop offset="0.192" stop-color="#00ffbb"/><stop offset="0.231" stop-color="#00ffb1"/><stop offset="0.269" stop-color="#00ffa4"/><stop offset="0.308" stop-color="#00ff92"/><stop offset="0.346" stop-color="#22ff7a"/><stop offset="0.385" stop-color="#6cff71"/><stop offset="0.423" stop-color="#a0ff65"/><stop offset="0.462" stop-color="#cfff57"/><stop offset="0.500" stop-color="#fcff45"/><stop offset="0.538" stop-color="#ffdb25"/><stop offset="0.577" stop-color="#ffbd00"/><stop offset="0.615" stop-color="#ffa600"/><stop offset="0.654" stop-color="#ff9200"/><stop offset="0.692" stop-color="#ff8200"/><stop offset="0.731" stop-color="#ff7300"/><stop offset="0.769" stop-color="#ff6600"/><stop offset="0.808" stop-color="#ff5b00"/><stop offset="0.846" stop-color="#ff5000"/><stop offset="0.885" stop-color="#ff4600"/><stop offset="0.923" stop-color="#ff3c00"/><stop offset="0.962" stop-color="#ff3200"/><stop offset="1.000" stop-color="#ff2800"/></linearGradient>
<linearGradient id="g20"><stop offset="0.000" stop-color="#00ffda"/><stop offset="0.038" stop-color="#00ffd7"/><stop offset="0.077" stop-color="#00ffd3"/><stop offset="0.115" stop-color="#00ffcf"/><stop offset="0.154" stop-color="#00ffca"/><stop offset="0.192" stop-color="#00ffc3"/><stop offset="0.231" stop-color="#00ffba"/><stop offset="0.269" stop-color="#00ffae"/><stop offset="0.308" stop-color="#00ff9d"/><stop offset="0.346" stop-color="#38ff8b"/><stop offset="0.385" stop-color="#7bff82"/><stop offset="0.423" stop-color="#b0ff78"/><stop offset="0.462" stop-color="#e1ff6c"/><stop offset="0.500" stop-color="#ffef57"/><stop offset="0.538" stop-color="#ffcb3a"/><stop offset="0.577" stop-color="#ffaf1e"/><stop offset="0.615" stop-color="#ff9900"/><stop offset="0.654" stop-color="#ff8700"/><stop offset="0.692" stop-color="#ff7700"/><stop offset="0.731" stop-color="#ff6900"/><stop offset="0.769" stop-color="#ff5c00"/><stop offset="0.808" stop-color="#ff5100"/><stop offset="0.846" stop-color="#ff4600"/><stop offset="0.885" stop-color="#ff3b00"/><stop offset="0.923" stop-color="#ff3100"/><stop offset="0.962" stop-color="#ff2700"/><stop offset="1.000" stop-color="#ff1c00"/></linearGradient>
<linearGradient id="g21"><stop offset="0.000" stop-color="#00ffe0"/><stop offset="0.038" stop-color="#00ffdd"/><stop offset="0.077" stop-color="#00ffda"/><stop offset="0.115" stop-color="#00ffd6"/><stop offset="0.154" stop-color="#00ffd2"/><stop offset="0.192" stop-color="#00ffcc"/><stop offset="0.231" stop-color="#00ffc4"/><stop offset="0.269" stop-color="#00ffb9"/><stop offset="0.308" stop-color="#00ffa9"/><stop offset="0.346" stop-color="#4aff9c"/><stop offset="0.385" stop-color="#8cff95"/><stop offset="0.423" stop-color="#c2ff8c"/><stop offset="0.462" stop-color="#f5ff81"/><stop offset="0.500" stop-color="#ffdc65"/><stop offset="0.538" stop-color="#ffbb4a"/><stop offset="0.577" stop-color="#ffa132"/><stop offset="0.615" stop-color="#ff8c18"/><stop offset="0.654" stop-color="#ff7b00"/><stop offset="0.692" stop-color="#ff6c00"/><stop offset="0.731" stop-color="#ff5e00"/><stop offset="0.769" stop-color="#ff5200"/><stop offset="0.808" stop-color="#ff4600"/><stop offset="0.846" stop-color="#ff3b00"/><stop offset="0.885" stop-color="#ff3000"/><stop offset="0.923" stop-color="#ff2500"/><stop offset="0.962" stop-color="#ff1900"/><stop offset="1.000" stop-color="#ff0800"/></linearGradient>
<linearGradient id="g22"><stop offset="0.000" stop-color="#00ffe6"/><stop offset="0.038" stop-color="#00ffe4"/><stop offset="0.077" stop-color="#00ffe1"/><stop offset="0.115" stop-color="#00ffde"/><stop offset="0.154" stop-color="#00ffda"/><stop offset="0.192" stop-color="#00ffd5"/><stop offset="0.231" stop-color="#00ffce"/><stop offset="0.269" stop-color="#00ffc5"/><stop offset="0.308" stop-color="#00ffb7"/><stop offset="0.346" stop-color="#5dffaf"/><stop offset="0.385" stop-color="#9dffa8"/><stop offset="0.423" stop-color="#d5ffa1"/><stop offset="0.462" stop-color="#fff391"/><stop offset="0.500" stop-color="#ffca70"/><stop offset="0.538" stop-color="#ffac56"/><stop offset="0.577" stop-color="#ff9440"/><stop offset="0.615" stop-color="#ff802b"/><stop offset="0.654" stop-color="#ff6f13"/><stop offset="0.692" stop-color="#ff6000"/><stop offset="0.731" stop-color="#ff5300"/><stop offset="0.769" stop-color="#ff4600"/><stop offset="0.808" stop-color="#ff3b00"/><stop offset="0.846" stop-color="#ff2f00"/><stop offset="0.885" stop-color="#ff2300"/><stop offset="0.923" stop-color="#ff1600"/><stop offset="0.962" stop-color="#ff0000"/><stop offset="1.000" stop-color="#ff0000"/></linearGradient>
<linearGradient id="g23"><stop offset="0.000" stop-color="#00ffed"/><stop offset="0.038" stop-color="#00ffeb"/><stop offset="0.077" stop-color="#00ffe9"/><stop offset="0.115" stop-color="#00ffe7"/><stop offset="0.154" stop-color="#00ffe4"/><stop offset="0.192" stop-color="#00ffe0"/><stop offset="0.231" stop-color="#00ffda"/><stop offset="0.269" stop-color="#00ffd3"/><stop offset="0.308" stop-color="#00ffc7"/><stop offset="0.346" stop-color="#70ffc3"/><stop offset="0.385" stop-color="#b1ffbe"/><stop offset="0.423" stop-color="#ebffb8"/><stop offset="0.462" stop-color="#ffde9a"/><stop offset="0.500" stop-color="#ffb87a"/><stop offset="0.538" stop-color="#ff9c61"/><stop offset="0.577" stop-color="#ff864c"/><stop offset="0.615" stop-color="#ff7339"/><stop offset="0.654" stop-color="#ff6326"/><stop offset="0.692" stop-color="#ff540f"/><stop offset="0.731" stop-color="#ff4700"/><stop offset="0.769" stop-color="#ff3a00"/><stop offset="0.808" stop-color="#ff2e00"/><stop offset="0.846" stop-color="#ff2100"/><stop offset="0.885" stop-color="#ff1200"/><stop offset="0.923" stop-color="#ff0000"/><stop offset="0.962" stop-color="#ff0000"/><stop offset="1.000" stop-color="#ff0000"/></linearGradient>
<linearGradient id="g24"><stop offset="0.000" stop-color="#00fff3"/><stop offset="0.038" stop-color="#00fff2"/><stop offset="0.077" stop-color="#00fff1"/><stop offset="0.115" stop-color="#00fff0"/><stop offset="0.154" stop-color="#00ffee"/><stop offset="0.192" stop-color="#00ffeb"/><stop offset="0.231" stop-color="#00ffe8"/><stop offset="0.269" stop-color="#00ffe3"/><stop offset="0.308" stop-color="#28ffdc"/><stop offset="0.346" stop-color="#84ffd9"/><stop offset="0.385" stop-color="#c6ffd6"/><stop offset="0.423" stop-color="#ffface"/><stop offset="0.462" stop-color="#ffc9a2"/><stop offset="0.500" stop-color="#ffa783"/><stop offset="0.538" stop-color="#ff8d6a"/><stop offset="0.577" stop-color="#ff7756"/><stop offset="0.615" stop-color="#ff6544"/><stop offset="0.654" stop-color="#ff5633"/><stop offset="0.692" stop-color="#ff4721"/><stop offset="0.731" stop-color="#ff3a0b"/><stop offset="0.769" stop-color="#ff2c00"/><stop offset="0.808" stop-color="#ff1e00"/><stop offset="0.846" stop-color="#ff0c00"/><stop offset="0.885" stop-color="#ff0000"/><stop offset="0.923" stop-color="#ff0000"/><stop offset="0.962" stop-color="#ff0000"/><stop offset="1.000" stop-color="#ff0000"/></linearGradient>
<linearGradient id="g25"><stop offset="0.000" stop-color="#00fffb"/><stop offset="0.038" stop-color="#00fffa"/><stop offset="0.077" stop-color="#00fffa"/><stop offset="0.115" stop-color="#00fffa"/><stop offset="0.154" stop-color="#00fff9"/><stop offset="0.192" stop-color="#00fff8"/><stop offset="0.231" stop-color="#00fff7"/><stop offset="0.269" stop-color="#00fff5"/><stop offset="0.308" stop-color="#43fff3"/><stop offset="0.346" stop-color="#99fff2"/><stop offset="0.385" stop-color="#dffff1"/><stop offset="0.423" stop-color="#ffe0d3"/><stop offset="0.462" stop-color="#ffb5a9"/><stop offset="0.500" stop-color="#ff958b"/><stop offset="0.538" stop-color="#ff7d73"/><stop offset="0.577" stop-color="#ff695f"/><stop offset="0.615" stop-color="#ff574d"/><stop offset="0.654" stop-color="#ff483d"/><stop offset="0.692" stop-color="#ff392e"/><stop offset="0.731" stop-color="#ff2b1e"/><stop offset="0.769" stop-color="#ff1b07"/><stop offset="0.808" stop-color="#ff0100"/><stop offset="0.846" stop-color="#ff0000"/><stop offset="0.885" stop-color="#ff0000"/><stop offset="0.923" stop-color="#ff0000"/><stop offset="0.962" stop-color="#ff0000"/><stop offset="1.000" stop-color="#ff0000"/></linearGradient>
<linearGradient id="g26"><stop offset="0.000" stop-color="#00fbff"/><stop offset="0.038" stop-color="#00faff"/><stop offset="0.077" stop-color="#00faff"/><stop offset="0.115" stop-color="#00f9ff"/><stop offset="0.154" stop-color="#00f8ff"/><stop offset="0.192" stop-color="#00f7ff"/><stop offset="0.231" stop-color="#00f6ff"/><stop offset="0.269" stop-color="#00f3ff"/><stop offset="0.308" stop-color="#57f1ff"/><stop offset="0.346" stop-color="#a7f0ff"/><stop offset="0.385" stop-color="#ebeeff"/><stop offset="0.423" stop-color="#ffc8d8"/><stop offset="0.462" stop-color="#ffa1af"/><stop offset="0.500" stop-color="#ff8491"/><stop offset="0.538" stop-color="#ff6d7a"/><stop offset="0.577" stop-color="#ff5966"/><stop offset="0.615" stop-color="#ff4856"/><stop offset="0.654" stop-color="#ff3846"/><stop offset="0.692" stop-color="#ff2838"/><stop offset="0.731" stop-color="#ff172a"/><stop offset="0.769" stop-color="#ff001e"/><stop offset="0.808" stop-color="#ff0019"/><stop offset="0.846" stop-color="#ff0014"/><stop offset="0.885" stop-color="#ff000f"/><stop offset="0.923" stop-color="#ff0009"/><stop offset="0.962" stop-color="#ff0000"/><stop offset="1.000" stop-color="#ff0000"/></linearGradient>
<linearGradient id="g27"><stop offset="0.000" stop-color="#00f1ff"/><stop offset="0.038" stop-color="#00f0ff"/><stop offset="0.077" stop-color="#00eeff"/><stop offset="0.115" stop-color="#00edff"/><stop offset="0.154" stop-color="#00ebff"/><stop offset="0.192" stop-color="#00e8ff"/><stop offset="0.231" stop-color="#00e4ff"/><stop offset="0.269" stop-color="#00ddff"/><stop offset="0.308" stop-color="#64d8ff"/><stop offset="0.346" stop-color="#abd5ff"/><stop offset="0.385" stop-color="#ead1ff"/><stop offset="0.423" stop-color="#ffb0dc"/><stop offset="0.462" stop-color="#ff8db5"/><stop offset="0.500" stop-color="#ff7298"/><stop offset="0.538" stop-color="#ff5c81"/><stop offset="0.577" stop-color="#ff496e"/><stop offset="0.615" stop-color="#ff375d"/><stop offset="0.654" stop-color="#ff264e"/><stop offset="0.692" stop-color="#ff1141"/><stop offset="0.731" stop-color="#ff0038"/><stop offset="0.769" stop-color="#ff0032"/><stop offset="0.808" stop-color="#ff002d"/><stop offset="0.846" stop-color="#ff0029"/><stop offset="0.885" stop-color="#ff0025"/><stop offset="0.923" stop-color="#ff0021"/><stop offset="0.962" stop-color="#ff001e"/><stop offset="1.000" stop-color="#ff001b"/></linearGradient>
<linearGradient id="g28"><stop offset="0.000" stop-color="#00e7ff"/><stop offset="0.038" stop-color="#00e5ff"/><stop offset="0.077" stop-color="#00e2ff"/><stop offset="0.115" stop-color="#00e0ff"/><stop offset="0.154" stop-color="#00dcff"/><stop offset="0.192" stop-color="#00d8ff"/><stop offset="0.231" stop-color="#00d1ff"/><stop offset="0.269" stop-color="#00c6ff"/><stop offset="0.308" stop-color="#6fc1ff"/><stop offset="0.346" stop-color="#afbcff"/><stop offset="0.385" stop-color="#eab6ff"/><stop offset="0.423" stop-color="#ff99df"/><stop offset="0.462" stop-color="#ff78ba"/><stop offset="0.500" stop-color="#ff5f9d"/><stop offset="0.538" stop-color="#ff4a87"/><stop offset="0.577" stop-color="#ff3674"/><stop offset="0.615" stop-color="#ff2364"/><stop offset="0.654" stop-color="#ff0955"/><stop offset="0.692" stop-color="#ff004d"/><stop offset="0.731" stop-color="#ff0047"/><stop offset="0.769" stop-color="#ff0041"/><stop offset="0.808" stop-color="#ff003c"/><stop offset="0.846" stop-color="#ff0038"/><stop offset="0.885" stop-color="#ff0034"/><stop offset="0.923" stop-color="#ff0030"/><stop offset="0.962" stop-color="#ff002c"/><stop offset="1.000" stop-color="#ff0029"/></linearGradient>
<linearGradient id="g29"><stop offset="0.000" stop-color="#00dcff"/><stop offset="0.038" stop-color="#00d9ff"/><stop offset="0.077" stop-color="#00d5ff"/><stop offset="0.115" stop-color="#00d2ff"/><stop offset="0.154" stop-color="#00ceff"/><stop offset="0.192" stop-color="#00c7ff"/><stop offset="0.231" stop-color="#00beff"/><stop offset="0.269" stop-color="#23b0ff"/><stop offset="0.308" stop-color="#77aaff"/><stop offset="0.346" stop-color="#b3a3ff"/><stop offset="0.385" stop-color="#e99bff"/><stop offset="0.423" stop-color="#ff81e3"/><stop offset="0.462" stop-color="#ff63be"/><stop offset="0.500" stop-color="#ff4ba3"/><stop offset="0.538" stop-color="#ff358c"/><stop offset="0.577" stop-color="#ff1f7a"/><stop offset="0.615" stop-color="#ff006b"/><stop offset="0.654" stop-color="#ff0061"/><stop offset="0.692" stop-color="#ff005a"/><stop offset="0.731" stop-color="#ff0053"/><stop offset="0.769" stop-color="#ff004d"/><stop offset="0.808" stop-color="#ff0048"/><stop offset="0.846" stop-color="#ff0043"/><stop offset="0.885" stop-color="#ff003f"/><stop offset="0.923" stop-color="#ff003b"/><stop offset="0.962" stop-color="#ff0038"/><stop offset="1.000" stop-color="#ff0034"/></linearGradient>
<linearGradient id="g30"><stop offset="0.000" stop-color="#00d0ff"/><stop offset="0.038" stop-color="#00ccff"/><stop offset="0.077" stop-color="#00c8ff"/><stop offset="0.115" stop-color="#00c3ff"/><stop offset="0.154" stop-color="#00beff"/><stop offset="0.192" stop-color="#00b6ff"/><stop offset="0.231" stop-color="#00aaff"/><stop offset="0.269" stop-color="#379cff"/><stop offset="0.308" stop-color="#7f94ff"/><stop offset="0.346" stop-color="#b68cff"/><stop offset="0.385" stop-color="#e981ff"/><stop offset="0.423" stop-color="#ff69e5"/><stop offset="0.462" stop-color="#ff4cc2"/><stop offset="0.500" stop-color="#ff33a7"/><stop offset="0.538" stop-color="#ff1992"/><stop offset="0.577" stop-color="#ff0081"/><stop offset="0.615" stop-color="#ff0076"/><stop offset="0.654" stop-color="#ff006c"/><stop offset="0.692" stop-color="#ff0064"/><stop offset="0.731" stop-color="#ff005d"/><stop offset="0.769" stop-color="#ff0057"/><stop offset="0.808" stop-color="#ff0052"/><stop offset="0.846" stop-color="#ff004d"/><stop offset="0.885" stop-color="#ff0049"/><stop offset="0.923" stop-color="#ff0045"/><stop offset="0.962" stop-color="#ff0041"/><stop offset="1.000" stop-color="#ff003e"/></linearGradient>
<linearGradient id="g31"><stop offset="0.000" stop-color="#00c2ff"/><stop offset="0.038" stop-color="#00beff"/><stop offset="0.077" stop-color="#00b9ff"/><stop offset="0.115" stop-color="#00b4ff"/><stop offset="0.154" stop-color="#00aeff"/><stop offset="0.192" stop-color="#00a5ff"/><stop offset="0.231" stop-color="#0096ff"/><stop offset="0.269" stop-color="#4687ff"/><stop offset="0.308" stop-color="#857eff"/><stop offset="0.346" stop-color="#b974ff"/><stop offset="0.385" stop-color="#e966ff"/><stop offset="0.423" stop-color="#ff4ee8"/><stop offset="0.462" stop-color="#ff31c6"/><stop offset="0.500" stop-color="#ff11ac"/><stop offset="0.538" stop-color="#ff0099"/><stop offset="0.577" stop-color="#ff008b"/><stop offset="0.615" stop-color="#ff007f"/><stop offset="0.654" stop-color="#ff0076"/><stop offset="0.692" stop-color="#ff006d"/><stop offset="0.731" stop-color="#ff0066"/><stop offset="0.769" stop-color="#ff0060"/><stop offset="0.808" stop-color="#ff005a"/><stop offset="0.846" stop-color="#ff0056"/><stop offset="0.885" stop-color="#ff0051"/><stop offset="0.923" stop-color="#ff004d"/><stop offset="0.962" stop-color="#ff0049"/><stop offset="1.000" stop-color="#ff0046"/></linearGradient>
<linearGradient id="g32"><stop offset="0.000" stop-color="#00b4ff"/><stop offset="0.038" stop-color="#00afff"/><stop offset="0.077" stop-color="#00aaff"/><stop offset="0.115" stop-color="#00a4ff"/><stop offset="0.154" stop-color="#009dff"/><stop offset="0.192" stop-color="#0092ff"/><stop offset="0.231" stop-color="#0081ff"/><stop offset="0.269" stop-color="#5273ff"/><stop offset="0.308" stop-color="#8b68ff"/><stop offset="0.346" stop-color="#bb5aff"/><stop offset="0.385" stop-color="#e849ff"/><stop offset="0.423" stop-color="#ff2eeb"/><stop offset="0.462" stop-color="#ff00ca"/><stop offset="0.500" stop-color="#ff00b2"/><stop offset="0.538" stop-color="#ff00a1"/><stop offset="0.577" stop-color="#ff0093"/><stop offset="0.615" stop-color="#ff0087"/><stop offset="0.654" stop-color="#ff007e"/><stop offset="0.692" stop-color="#ff0075"/><stop offset="0.731" stop-color="#ff006e"/><stop offset="0.769" stop-color="#ff0068"/><stop offset="0.808" stop-color="#ff0062"/><stop offset="0.846" stop-color="#ff005d"/><stop offset="0.885" stop-color="#ff0059"/><stop offset="0.923" stop-color="#ff0054"/><stop offset="0.962" stop-color="#ff0050"/><stop offset="1.000" stop-color="#ff004d"/></linearGradient>
<linearGradient id="g33"><stop offset="0.000" stop-color="#00a5ff"/><stop offset="0.038" stop-color="#009fff"/><stop offset="0.077" stop-color="#0099ff"/><stop offset="0.115" stop-color="#0094ff"/><stop offset="0.154" stop-color="#008cff"/><stop offset="0.192" stop-color="#0080ff"/><stop offset="0.231" stop-color="#006aff"/><stop offset="0.269" stop-color="#5b5eff"/><stop offset="0.308" stop-color="#9050ff"/><stop offset="0.346" stop-color="#bd3fff"/><stop offset="0.385" stop-color="#e826ff"/><stop offset="0.423" stop-color="#ff00ed"/><stop offset="0.462" stop-color="#ff00cf"/><stop offset="0.500" stop-color="#ff00b9"/><stop offset="0.538" stop-color="#ff00a8"/><stop offset="0.577" stop-color="#ff009a"/><stop offset="0.615" stop-color="#ff008e"/><stop offset="0.654" stop-color="#ff0085"/><stop offset="0.692" stop-color="#ff007c"/><stop offset="0.731" stop-color="#ff0075"/><stop offset="0.769" stop-color="#ff006f"/><stop offset="0.808" stop-color="#ff0069"/><stop offset="0.846" stop-color="#ff0064"/><stop offset="0.885" stop-color="#ff005f"/><stop offset="0.923" stop-color="#ff005b"/><stop offset="0.962" stop-color="#ff0057"/><stop offset="1.000" stop-color="#ff0053"/></linearGradient>
<linearGradient id="g34"><stop offset="0.000" stop-color="#0096ff"/><stop offset="0.038" stop-color="#008fff"/><stop offset="0.077" stop-color="#0088ff"/><stop offset="0.115" stop-color="#0082ff"/><stop offset="0.154" stop-color="#007aff"/><stop offset="0.192" stop-color="#006cff"/><stop offset="0.231" stop-color="#1c55ff"/><stop offset="0.269" stop-color="#6347ff"/><stop offset="0.308" stop-color="#9435ff"/><stop offset="0.346" stop-color="#bf19ff"/><stop offset="0.385" stop-color="#e900ff"/><stop offset="0.423" stop-color="#ff00f0"/><stop offset="0.462" stop-color="#ff00d4"/><stop offset="0.500" stop-color="#ff00be"/><stop offset="0.538" stop-color="#ff00ae"/><stop offset="0.577" stop-color="#ff00a0"/><stop offset="0.615" stop-color="#ff0095"/><stop offset="0.654" stop-color="#ff008b"/><stop offset="0.692" stop-color="#ff0083"/><stop offset="0.731" stop-color="#ff007c"/><stop offset="0.769" stop-color="#ff0075"/><stop offset="0.808" stop-color="#ff006f"/><stop offset="0.846" stop-color="#ff006a"/><stop offset="0.885" stop-color="#ff0065"/><stop offset="0.923" stop-color="#ff0061"/><stop offset="0.962" stop-color="#ff005d"/><stop offset="1.000" stop-color="#ff0059"/></linearGradient>
<linearGradient id="g35"><stop offset="0.000" stop-color="#008aff"/><stop offset="0.038" stop-color="#0082ff"/><stop offset="0.077" stop-color="#0079ff"/><stop offset="0.115" stop-color="#0070ff"/><stop offset="0.154" stop-color="#0067ff"/><stop offset="0.192" stop-color="#0057ff"/><stop offset="0.231" stop-color="#2e3eff"/><stop offset="0.269" stop-color="#6b2bff"/><stop offset="0.308" stop-color="#980aff"/><stop offset="0.346" stop-color="#c300ff"/><stop offset="0.385" stop-color="#e900ff"/><stop offset="0.423" stop-color="#ff00f2"/><stop offset="0.462" stop-color="#ff00d8"/><stop offset="0.500" stop-color="#ff00c3"/><stop offset="0.538" stop-color="#ff00b3"/><stop offset="0.577" stop-color="#ff00a6"/><stop offset="0.615" stop-color="#ff009b"/><stop offset="0.654" stop-color="#ff0091"/><stop offset="0.692" stop-color="#ff0089"/><stop offset="0.731" stop-color="#ff0081"/><stop offset="0.769" stop-color="#ff007b"/><stop offset="0.808" stop-color="#ff0075"/><stop offset="0.846" stop-color="#ff0070"/><stop offset="0.885" stop-color="#ff006b"/><stop offset="0.923" stop-color="#ff0067"/><stop offset="0.962" stop-color="#ff0062"/><stop offset="1.000" stop-color="#ff005f"/></linearGradient>
<linearGradient id="g36"><stop offset="0.000" stop-color="#007eff"/><stop offset="0.038" stop-color="#0075ff"/><stop offset="0.077" stop-color="#006aff"/><stop offset="0.115" stop-color="#005eff"/><stop offset="0.154" stop-color="#0053ff"/><stop offset="0.192" stop-color="#003fff"/><stop offset="0.231" stop-color="#3b22ff"/><stop offset="0.269" stop-color="#7200ff"/><stop offset="0.308" stop-color="#a000ff"/><stop offset="0.346" stop-color="#c700ff"/><stop offset="0.385" stop-color="#ea00ff"/><stop offset="0.423" stop-color="#ff00f4"/><stop offset="0.462" stop-color="#ff00db"/><stop offset="0.500" stop-color="#ff00c8"/><stop offset="0.538" stop-color="#ff00b8"/><stop offset="0.577" stop-color="#ff00ab"/><stop offset="0.615" stop-color="#ff00a0"/><stop offset="0.654" stop-color="#ff0096"/><stop offset="0.692" stop-color="#ff008e"/><stop offset="0.731" stop-color="#ff0087"/><stop offset="0.769" stop-color="#ff0080"/><stop offset="0.808" stop-color="#ff007a"/><stop offset="0.846" stop-color="#ff0075"/><stop offset="0.885" stop-color="#ff0070"/><stop offset="0.923" stop-color="#ff006c"/><stop offset="0.962" stop-color="#ff0068"/><stop offset="1.000" stop-color="#ff0064"/></linearGradient>
<linearGradient id="g37"><stop offset="0.000" stop-color="#0071ff"/><stop offset="0.038" stop-color="#0067ff"/><stop offset="0.077" stop-color="#005bff"/><stop offset="0.115" stop-color="#004dff"/><stop offset="0.154" stop-color="#003dff"/><stop offset="0.192" stop-color="#0021ff"/><stop offset="0.231" stop-color="#4900ff"/><stop offset="0.269" stop-color="#7c00ff"/><stop offset="0.308" stop-color="#a600ff"/><stop offset="0.346" stop-color="#cb00ff"/><stop offset="0.385" stop-color="#eb00ff"/><stop offset="0.423" stop-color="#ff00f6"/><stop offset="0.462" stop-color="#ff00de"/><stop offset="0.500" stop-color="#ff00cb"/><stop offset="0.538" stop-color="#ff00bc"/><stop offset="0.577" stop-color="#ff00af"/><stop offset="0.615" stop-color="#ff00a5"/><stop offset="0.654" stop-color="#ff009b"/><stop offset="0.692" stop-color="#ff0093"/><stop offset="0.731" stop-color="#ff008c"/><stop offset="0.769" stop-color="#ff0085"/><stop offset="0.808" stop-color="#ff007f"/><stop offset="0.846" stop-color="#ff007a"/><stop offset="0.885" stop-color="#ff0075"/><stop offset="0.923" stop-color="#ff0070"/><stop offset="0.962" stop-color="#ff006c"/><stop offset="1.000" stop-color="#ff0068"/></linearGradient>
<linearGradient id="g38"><stop offset="0.000" stop-color="#0064ff"/><stop offset="0.038" stop-color="#0059ff"/><stop offset="0.077" stop-color="#004bff"/><stop offset="0.115" stop-color="#0039ff"/><stop offset="0.154" stop-color="#0022ff"/><stop offset="0.192" stop-color="#0000ff"/><stop offset="0.231" stop-color="#5600ff"/><stop offset="0.269" stop-color="#8500ff"/><stop offset="0.308" stop-color="#ac00ff"/><stop offset="0.346" stop-color="#ce00ff"/><stop offset="0.385" stop-color="#eb00ff"/><stop offset="0.423" stop-color="#ff00f7"/><stop offset="0.462" stop-color="#ff00e1"/><stop offset="0.500" stop-color="#ff00cf"/><stop offset="0.538" stop-color="#ff00c0"/><stop offset="0.577" stop-color="#ff00b4"/><stop offset="0.615" stop-color="#ff00a9"/><stop offset="0.654" stop-color="#ff00a0"/><stop offset="0.692" stop-color="#ff0097"/><stop offset="0.731" stop-color="#ff0090"/><stop offset="0.769" stop-color="#ff008a"/><stop offset="0.808" stop-color="#ff0084"/><stop offset="0.846" stop-color="#ff007e"/><stop offset="0.885" stop-color="#ff0079"/><stop offset="0.923" stop-color="#ff0075"/><stop offset="0.962" stop-color="#ff0071"/><stop offset="1.000" stop-color="#ff006d"/></linearGradient>
<linearGradient id="g39"><stop offset="0.000" stop-color="#0057ff"/><stop offset="0.038" stop-color="#004aff"/><stop offset="0.077" stop-color="#0039ff"/><stop offset="0.115" stop-color="#0021ff"/><stop offset="0.154" stop-color="#0000ff"/><stop offset="0.192" stop-color="#2600ff"/><stop offset="0.231" stop-color="#6200ff"/><stop offset="0.269" stop-color="#8c00ff"/><stop offset="0.308" stop-color="#b000ff"/><stop offset="0.346" stop-color="#d000ff"/><stop offset="0.385" stop-color="#ec00ff"/><stop offset="0.423" stop-color="#ff00f9"/><stop offset="0.462" stop-color="#ff00e3"/><stop offset="0.500" stop-color="#ff00d2"/><stop offset="0.538" stop-color="#ff00c3"/><stop offset="0.577" stop-color="#ff00b7"/><stop offset="0.615" stop-color="#ff00ad"/><stop offset="0.654" stop-color="#ff00a4"/><stop offset="0.692" stop-color="#ff009b"/><stop offset="0.731" stop-color="#ff0094"/><stop offset="0.769" stop-color="#ff008e"/><stop offset="0.808" stop-color="#ff0088"/><stop offset="0.846" stop-color="#ff0082"/><stop offset="0.885" stop-color="#ff007e"/><stop offset="0.923" stop-color="#ff0079"/><stop offset="0.962" stop-color="#ff0075"/><stop offset="1.000" stop-color="#ff0071"/></linearGradient>
<linearGradient id="g40"><stop offset="0.000" stop-color="#004cff"/><stop offset="0.038" stop-color="#003dff"/><stop offset="0.077" stop-color="#0029ff"/><stop offset="0.115" stop-color="#0000ff"/><stop offset="0.154" stop-color="#0000ff"/><stop offset="0.192" stop-color="#3300ff"/><stop offset="0.231" stop-color="#6900ff"/><stop offset="0.269" stop-color="#9100ff"/><stop offset="0.308" stop-color="#b300ff"/><stop offset="0.346" stop-color="#d200ff"/><stop offset="0.385" stop-color="#ec00ff"/><stop offset="0.423" stop-color="#ff00f9"/><stop offset="0.462" stop-color="#ff00e5"/><stop offset="0.500" stop-color="#ff00d4"/><stop offset="0.538" stop-color="#ff00c6"/><stop offset="0.577" stop-color="#ff00ba"/><stop offset="0.615" stop-color="#ff00b0"/><stop offset="0.654" stop-color="#ff00a6"/><stop offset="0.692" stop-color="#ff009e"/><stop offset="0.731" stop-color="#ff0097"/><stop offset="0.769" stop-color="#ff0091"/><stop offset="0.808" stop-color="#ff008b"/><stop offset="0.846" stop-color="#ff0085"/><stop offset="0.885" stop-color="#ff0080"/><stop offset="0.923" stop-color="#ff007c"/><stop offset="0.962" stop-color="#ff0078"/><stop offset="1.000" stop-color="#ff0074"/></linearGradient>
<linearGradient id="g41"><stop offset="0.000" stop-color="#004cff"/><stop offset="0.038" stop-color="#003dff"/><stop offset="0.077" stop-color="#0029ff"/><stop offset="0.115" stop-color="#0000ff"/><stop offset="0.154" stop-color="#0000ff"/><stop offset="0.192" stop-color="#3300ff"/><stop offset="0.231" stop-color="#6900ff"/><stop offset="0.269" stop-color="#9100ff"/><stop offset="0.308" stop-color="#b300ff"/><stop offset="0.346" stop-color="#d200ff"/><stop offset="0.385" stop-color="#ec00ff"/><stop offset="0.423" stop-color="#ff00f9"/><stop offset="0.462" stop-color="#ff00e5"/><stop offset="0.500" stop-color="#ff00d4"/><stop offset="0.538" stop-color="#ff00c6"/><stop offset="0.577" stop-color="#ff00ba"/><stop offset="0.615" stop-color="#ff00b0"/><stop offset="0.654" stop-color="#ff00a6"/><stop offset="0.692" stop-color="#ff009e"/><stop offset="0.731" stop-color="#ff0097"/><stop offset="0.769" stop-color="#ff0091"/><stop offset="0.808" stop-color="#ff008b"/><stop offset="0.846" stop-color="#ff0085"/><stop offset="0.885" stop-color="#ff0080"/><stop offset="0.923" stop-color="#ff007c"/><stop offset="0.962" stop-color="#ff0078"/><stop offset="1.000" stop-color="#ff0074"/></linearGradient>
<clipPath id="dclip"><rect x="409.3" y="162.9" width="134.5" height="118.0"/></clipPath>
<filter id="dblur" x="-5%" y="-5%" width="110%" height="110%"><feGaussianBlur stdDeviation="1.1"/></filter>
</defs>
<g clip-path="url(#dclip)"><g filter="url(#dblur)">
<rect x="406.3" y="159.9" width="140.5" height="3.05" fill="url(#g0)"/>
<rect x="406.3" y="162.9" width="140.5" height="3.05" fill="url(#g1)"/>
<rect x="406.3" y="165.9" width="140.5" height="3.05" fill="url(#g2)"/>
<rect x="406.3" y="168.9" width="140.5" height="3.05" fill="url(#g3)"/>
<rect x="406.3" y="171.9" width="140.5" height="3.05" fill="url(#g4)"/>
<rect x="406.3" y="174.9" width="140.5" height="3.05" fill="url(#g5)"/>
<rect x="406.3" y="177.9" width="140.5" height="3.05" fill="url(#g6)"/>
<rect x="406.3" y="180.9" width="140.5" height="3.05" fill="url(#g7)"/>
<rect x="406.3" y="183.9" width="140.5" height="3.05" fill="url(#g8)"/>
<rect x="406.3" y="186.9" width="140.5" height="3.05" fill="url(#g9)"/>
<rect x="406.3" y="189.9" width="140.5" height="3.05" fill="url(#g10)"/>
<rect x="406.3" y="192.9" width="140.5" height="3.05" fill="url(#g11)"/>
<rect x="406.3" y="195.9" width="140.5" height="3.05" fill="url(#g12)"/>
<rect x="406.3" y="198.9" width="140.5" height="3.05" fill="url(#g13)"/>
<rect x="406.3" y="201.9" width="140.5" height="3.05" fill="url(#g14)"/>
<rect x="406.3" y="204.9" width="140.5" height="3.05" fill="url(#g15)"/>
<rect x="406.3" y="207.9" width="140.5" height="3.05" fill="url(#g16)"/>
<rect x="406.3" y="210.9" width="140.5" height="3.05" fill="url(#g17)"/>
<rect x="406.3" y="213.9" width="140.5" height="3.05" fill="url(#g18)"/>
<rect x="406.3" y="216.9" width="140.5" height="3.05" fill="url(#g19)"/>
<rect x="406.3" y="219.9" width="140.5" height="3.05" fill="url(#g20)"/>
<rect x="406.3" y="222.9" width="140.5" height="3.05" fill="url(#g21)"/>
<rect x="406.3" y="225.9" width="140.5" height="3.05" fill="url(#g22)"/>
<rect x="406.3" y="228.9" width="140.5" height="3.05" fill="url(#g23)"/>
<rect x="406.3" y="231.9" width="140.5" height="3.05" fill="url(#g24)"/>
<rect x="406.3" y="234.9" width="140.5" height="3.05" fill="url(#g25)"/>
<rect x="406.3" y="237.9" width="140.5" height="3.05" fill="url(#g26)"/>
<rect x="406.3" y="240.9" width="140.5" height="3.05" fill="url(#g27)"/>
<rect x="406.3" y="243.9" width="140.5" height="3.05" fill="url(#g28)"/>
<rect x="406.3" y="246.9" width="140.5" height="3.05" fill="url(#g29)"/>
<rect x="406.3" y="249.9" width="140.5" height="3.05" fill="url(#g30)"/>
<rect x="406.3" y="252.9" width="140.5" height="3.05" fill="url(#g31)"/>
<rect x="406.3" y="255.9" width="140.5" height="3.05" fill="url(#g32)"/>
<rect x="406.3" y="258.9" width="140.5" height="3.05" fill="url(#g33)"/>
<rect x="406.3" y="261.9" width="140.5" height="3.05" fill="url(#g34)"/>
<rect x="406.3" y="264.9" width="140.5" height="3.05" fill="url(#g35)"/>
<rect x="406.3" y="267.9" width="140.5" height="3.05" fill="url(#g36)"/>
<rect x="406.3" y="270.9" width="140.5" height="3.05" fill="url(#g37)"/>
<rect x="406.3" y="273.9" width="140.5" height="3.05" fill="url(#g38)"/>
<rect x="406.3" y="276.9" width="140.5" height="3.05" fill="url(#g39)"/>
<rect x="406.3" y="279.9" width="140.5" height="3.05" fill="url(#g40)"/>
<rect x="406.3" y="282.9" width="140.5" height="3.05" fill="url(#g41)"/>
</g></g>
<polygon points="521.9,237.6 444.6,187.8 432.8,270.4" fill="none" stroke="#c878cc" stroke-width="1.5" />
<polygon points="528.3,242.6 437.9,176.4 431.3,274.9" fill="none" stroke="#f0f0f0" stroke-width="0.8" stroke-opacity="0.8"/>
<polygon points="531.5,245.0 438.6,178.9 434.0,273.0" fill="none" stroke="#ffffff" stroke-width="1.1" />
<polygon points="532.7,244.3 438.9,178.0 434.0,277.8" fill="none" stroke="#f4f040" stroke-width="1.5" />
<polygon points="512.0,238.3 459.4,191.4 433.7,267.9" fill="none" stroke="#111" stroke-width="1.1" />
<polyline points="438.6,280.2 438.1,280.2 436.9,279.5 435.6,278.6 433.5,277.0 432.1,275.7 430.2,273.3 427.7,269.5 424.6,263.5 420.9,254.6 416.9,242.2 413.3,226.8 410.7,210.3 410.0,195.0 411.6,182.5 415.8,174.4 421.8,171.6 428.5,172.6 435.3,175.2 441.7,178.4 447.9,182.0 454.0,185.9 460.0,190.1 466.0,194.5 472.0,199.0 478.0,203.6 484.0,208.2 489.8,212.7 495.5,217.1 500.9,221.3 506.0,225.3 510.7,228.9 514.7,232.1 518.3,234.8 521.2,237.1 525.6,240.5 528.3,242.6 530.2,244.1 532.0,245.5 532.8,246.1" fill="none" stroke="#111" stroke-width="1.1"/>
<circle cx="433.7" cy="267.9" r="2.3" fill="#1010c0" stroke="#222" stroke-width="0.4"/>
<circle cx="459.4" cy="191.4" r="2.3" fill="#109010" stroke="#222" stroke-width="0.4"/>
<circle cx="512.0" cy="238.3" r="2.3" fill="#d01010" stroke="#222" stroke-width="0.4"/>
<path d="M434.0,270.5 L436.5,273.0 L434.0,275.5 L431.5,273.0 Z" fill="#2030f0"/>
<path d="M438.9,175.5 L441.4,178.0 L438.9,180.5 L436.4,178.0 Z" fill="#20d020"/>
<path d="M532.7,241.8 L535.2,244.3 L532.7,246.8 L530.2,244.3 Z" fill="#f02020"/>
<rect x="432.0" y="275.8" width="4" height="4" fill="#1030d0" stroke="#f0c020" stroke-width="0.8"/>
<rect x="436.9" y="176.0" width="4" height="4" fill="#40d010" stroke="#f0c020" stroke-width="0.8"/>
<rect x="530.7" y="242.3" width="4" height="4" fill="#f04010" stroke="#f0c020" stroke-width="0.8"/>
<text x="421.3" y="167.5" text-anchor="middle" font-family="'Liberation Sans', sans-serif" font-size="6.2" fill="#444">520</text>
<text x="452.6" y="180.3" text-anchor="middle" font-family="'Liberation Sans', sans-serif" font-size="6.2" fill="#444">540</text>
<text x="477.2" y="196.5" text-anchor="middle" font-family="'Liberation Sans', sans-serif" font-size="6.2" fill="#444">560</text>
<text x="501.0" y="215.5" text-anchor="middle" font-family="'Liberation Sans', sans-serif" font-size="6.2" fill="#444">580</text>
<text x="520.0" y="230.6" text-anchor="middle" font-family="'Liberation Sans', sans-serif" font-size="6.2" fill="#444">600</text>
<text x="535.0" y="238.3" text-anchor="middle" font-family="'Liberation Sans', sans-serif" font-size="6.2" fill="#444">620</text>
<text x="403.2" y="213" text-anchor="middle" font-family="'Liberation Sans', sans-serif" font-size="6.2" fill="#444">500</text>
<text x="418.5" y="267.5" text-anchor="middle" font-family="'Liberation Sans', sans-serif" font-size="6.2" fill="#444">480</text>
<text x="432" y="282.5" text-anchor="middle" font-family="'Liberation Sans', sans-serif" font-size="6.2" fill="#444">460</text>
<text transform="translate(444.8,226.8) rotate(-75.5)" textLength="32.5" lengthAdjust="spacingAndGlyphs" font-family="'Liberation Sans', sans-serif" font-weight="bold" font-size="6.6" fill="#c468c8" stroke="#c468c8" stroke-width="0.2">NTSC 1953</text>
<text transform="translate(431.4,236.5) rotate(-79)" textLength="27.5" lengthAdjust="spacingAndGlyphs" font-family="'Liberation Sans', sans-serif" font-size="6.4" fill="#c8c8e8">Rec.2020</text>
<text transform="translate(471.3,251.8) rotate(-20)" textLength="21.5" lengthAdjust="spacingAndGlyphs" font-family="'Liberation Sans', sans-serif" font-weight="bold" font-size="6" fill="#111">CF w LED</text>
<text transform="translate(476.8,259.8) rotate(-19.5)" textLength="45" lengthAdjust="spacingAndGlyphs" font-family="'Liberation Sans', sans-serif" font-weight="bold" font-size="6.6" fill="#fff">PrQDEF/blue LED</text>
<text transform="translate(450.6,278.2) rotate(-18)" textLength="51" lengthAdjust="spacingAndGlyphs" font-family="'Liberation Sans', sans-serif" font-weight="bold" font-size="7.6" fill="#f8a828">PrQDCF/blue LED</text>
<text x="463.3" y="169.8" textLength="26.3" lengthAdjust="spacingAndGlyphs" font-family="'Liberation Sans', sans-serif" font-weight="bold" font-style="italic" font-size="7.6" fill="#111">CIE 1931</text>
<rect x="498.8" y="163.3" width="42.6" height="44" fill="#c4c4c4"/>
<circle cx="505.8" cy="168.6" r="2.1" fill="#1010c0"/>
<text x="511.8" y="170.7" font-family="'Liberation Sans', sans-serif" font-size="5.8" fill="#444" stroke="#444" stroke-width="0.25" letter-spacing="0.05">B-CF</text>
<circle cx="505.8" cy="175.6" r="2.1" fill="#109010"/>
<text x="511.8" y="177.7" font-family="'Liberation Sans', sans-serif" font-size="5.8" fill="#444" stroke="#444" stroke-width="0.25" letter-spacing="0.05">G-CF</text>
<circle cx="505.8" cy="182.6" r="2.1" fill="#d01010"/>
<text x="511.8" y="184.7" font-family="'Liberation Sans', sans-serif" font-size="5.8" fill="#444" stroke="#444" stroke-width="0.25" letter-spacing="0.05">R-CF</text>
<path d="M505.8,187.3 L508.1,189.6 L505.8,191.9 L503.5,189.6 Z" fill="#2030f0"/>
<text x="511.8" y="191.7" font-family="'Liberation Sans', sans-serif" font-size="5.8" fill="#444" stroke="#444" stroke-width="0.25" letter-spacing="0.05">B-PrQDEF</text>
<path d="M505.8,194.3 L508.1,196.6 L505.8,198.9 L503.5,196.6 Z" fill="#20d020"/>
<text x="511.8" y="198.7" font-family="'Liberation Sans', sans-serif" font-size="5.8" fill="#444" stroke="#444" stroke-width="0.25" letter-spacing="0.05">G-PrQDEF</text>
<path d="M505.8,201.3 L508.1,203.6 L505.8,205.9 L503.5,203.6 Z" fill="#f02020"/>
<text x="511.8" y="205.7" font-family="'Liberation Sans', sans-serif" font-size="5.8" fill="#444" stroke="#444" stroke-width="0.25" letter-spacing="0.05">R-PrQDEF</text>
<rect x="499.1" y="257.5" width="43.4" height="23.4" fill="#c4c4c4"/>
<rect x="504.6" y="260.5" width="3.6" height="3.6" fill="#1030d0" stroke="#f0c020" stroke-width="0.7"/>
<text x="511.8" y="264.4" font-family="'Liberation Sans', sans-serif" font-size="5.8" fill="#444" stroke="#444" stroke-width="0.25" letter-spacing="0.05">B-PrQDCF</text>
<rect x="504.6" y="267.3" width="3.6" height="3.6" fill="#40d010" stroke="#f0c020" stroke-width="0.7"/>
<text x="511.8" y="271.2" font-family="'Liberation Sans', sans-serif" font-size="5.8" fill="#444" stroke="#444" stroke-width="0.25" letter-spacing="0.05">G-PrQDCF</text>
<rect x="504.6" y="274.1" width="3.6" height="3.6" fill="#f04010" stroke="#f0c020" stroke-width="0.7"/>
<text x="511.8" y="278.0" font-family="'Liberation Sans', sans-serif" font-size="5.8" fill="#444" stroke="#444" stroke-width="0.25" letter-spacing="0.05">R-PrQDCF</text>
<rect x="409.3" y="162.9" width="134.5" height="118.0" fill="none" stroke="#111" stroke-width="1"/>
<line x1="409.3" y1="280.9" x2="409.3" y2="283.09999999999997" stroke="#111" stroke-width="0.8"/>
<text x="409.3" y="289.5" text-anchor="middle" font-family="'Liberation Sans', sans-serif" font-weight="bold" font-size="6.6" fill="#333">0.0</text>
<line x1="426.1" y1="280.9" x2="426.1" y2="283.09999999999997" stroke="#111" stroke-width="0.8"/>
<text x="426.1" y="289.5" text-anchor="middle" font-family="'Liberation Sans', sans-serif" font-weight="bold" font-size="6.6" fill="#333">0.1</text>
<line x1="442.9" y1="280.9" x2="442.9" y2="283.09999999999997" stroke="#111" stroke-width="0.8"/>
<text x="442.9" y="289.5" text-anchor="middle" font-family="'Liberation Sans', sans-serif" font-weight="bold" font-size="6.6" fill="#333">0.2</text>
<line x1="459.7" y1="280.9" x2="459.7" y2="283.09999999999997" stroke="#111" stroke-width="0.8"/>
<text x="459.7" y="289.5" text-anchor="middle" font-family="'Liberation Sans', sans-serif" font-weight="bold" font-size="6.6" fill="#333">0.3</text>
<line x1="476.5" y1="280.9" x2="476.5" y2="283.09999999999997" stroke="#111" stroke-width="0.8"/>
<text x="476.5" y="289.5" text-anchor="middle" font-family="'Liberation Sans', sans-serif" font-weight="bold" font-size="6.6" fill="#333">0.4</text>
<line x1="493.4" y1="280.9" x2="493.4" y2="283.09999999999997" stroke="#111" stroke-width="0.8"/>
<text x="493.4" y="289.5" text-anchor="middle" font-family="'Liberation Sans', sans-serif" font-weight="bold" font-size="6.6" fill="#333">0.5</text>
<line x1="510.2" y1="280.9" x2="510.2" y2="283.09999999999997" stroke="#111" stroke-width="0.8"/>
<text x="510.2" y="289.5" text-anchor="middle" font-family="'Liberation Sans', sans-serif" font-weight="bold" font-size="6.6" fill="#333">0.6</text>
<line x1="527.0" y1="280.9" x2="527.0" y2="283.09999999999997" stroke="#111" stroke-width="0.8"/>
<text x="527.0" y="289.5" text-anchor="middle" font-family="'Liberation Sans', sans-serif" font-weight="bold" font-size="6.6" fill="#333">0.7</text>
<line x1="543.8" y1="280.9" x2="543.8" y2="283.09999999999997" stroke="#111" stroke-width="0.8"/>
<text x="543.8" y="289.5" text-anchor="middle" font-family="'Liberation Sans', sans-serif" font-weight="bold" font-size="6.6" fill="#333">0.8</text>
<line x1="406.8" y1="280.9" x2="409.3" y2="280.9" stroke="#111" stroke-width="0.8"/>
<text x="405.5" y="283.2" text-anchor="end" font-family="'Liberation Sans', sans-serif" font-weight="bold" font-size="6.6" fill="#333">0.0</text>
<line x1="407.8" y1="267.8" x2="409.3" y2="267.8" stroke="#111" stroke-width="0.8"/>
<line x1="406.8" y1="254.7" x2="409.3" y2="254.7" stroke="#111" stroke-width="0.8"/>
<text x="405.5" y="257.0" text-anchor="end" font-family="'Liberation Sans', sans-serif" font-weight="bold" font-size="6.6" fill="#333">0.2</text>
<line x1="407.8" y1="241.6" x2="409.3" y2="241.6" stroke="#111" stroke-width="0.8"/>
<line x1="406.8" y1="228.5" x2="409.3" y2="228.5" stroke="#111" stroke-width="0.8"/>
<text x="405.5" y="230.8" text-anchor="end" font-family="'Liberation Sans', sans-serif" font-weight="bold" font-size="6.6" fill="#333">0.4</text>
<line x1="407.8" y1="215.3" x2="409.3" y2="215.3" stroke="#111" stroke-width="0.8"/>
<line x1="406.8" y1="202.2" x2="409.3" y2="202.2" stroke="#111" stroke-width="0.8"/>
<text x="405.5" y="204.5" text-anchor="end" font-family="'Liberation Sans', sans-serif" font-weight="bold" font-size="6.6" fill="#333">0.6</text>
<line x1="407.8" y1="189.1" x2="409.3" y2="189.1" stroke="#111" stroke-width="0.8"/>
<line x1="406.8" y1="176.0" x2="409.3" y2="176.0" stroke="#111" stroke-width="0.8"/>
<text x="405.5" y="178.3" text-anchor="end" font-family="'Liberation Sans', sans-serif" font-weight="bold" font-size="6.6" fill="#333">0.8</text>
<line x1="407.8" y1="162.9" x2="409.3" y2="162.9" stroke="#111" stroke-width="0.8"/>
<text x="476.5" y="301.6" text-anchor="middle" font-family="'Liberation Sans', sans-serif" font-weight="bold" font-size="8" fill="#222">x</text>
<text transform="translate(394,222) rotate(-90)" text-anchor="middle" font-family="'Liberation Sans', sans-serif" font-weight="bold" font-size="8" fill="#222">y</text>
</g>
<g id="pb">
<text x="382.5" y="17.8" font-family="'Liberation Serif', serif" font-size="16" fill="#222">(b)</text>
<path d="M453.5,45 Q458,43.2 470,41.2 Q485,38.5 497,37 T541.5,31.8" fill="none" stroke="#f6a4b2" stroke-width="3.6"/>
<path d="M428.5,80 L431,68.6 Q434,56 437.4,49.5 Q440,46.5 447.8,46.5 L470,43.5 L500,38 L541.5,30" fill="none" stroke="#8484f2" stroke-width="0.8"/>
<path d="M440.5,94 L443.6,53 Q445,50 452,49 L480,44 L505,38 Q520,34 530,27 L534,25 L541.5,25.5" fill="none" stroke="#6a6af0" stroke-width="0.9"/>
<path d="M446.2,82 L447.4,51 Q450,48 458,47 L500,39.5 L541.5,33" fill="none" stroke="#8484f2" stroke-width="0.8"/>
<path d="M421.8,114.5 Q432,109 440,105 Q455,97.5 466,92.5 L486,85.5" fill="none" stroke="#9a9af4" stroke-width="0.7"/>
<path d="M465,60 Q490,46 541.5,34" fill="none" stroke="#b0b0f4" stroke-width="0.6"/>
<path d="M424,118 Q426,96 432,84 Q438,74 452,68 Q470,62 500,54 L541.5,40.5" fill="none" stroke="#6a6af0" stroke-width="0.9" stroke-dasharray="1.6,1.1"/>
<path d="M440,118 L484.5,33.5" stroke="#909090" stroke-width="0.7" fill="none"/>
<path d="M448,118 L467,55" stroke="#909090" stroke-width="0.6" fill="none"/>
<path d="M425.5,84 L422.5,118" stroke="#909090" stroke-width="0.7" fill="none"/>
<path d="M456.5,31 L454.5,44" stroke="#909090" stroke-width="0.6" fill="none"/>
<path d="M448.6,37 L447.6,62" stroke="#909090" stroke-width="0.6" fill="none"/>
<path d="M443.3,44.5 L443.3,54" stroke="#909090" stroke-width="0.6" fill="none"/>
<circle cx="444.6" cy="112.8" r="1.35" fill="#f01414"/>
<circle cx="445.1" cy="109.1" r="1.35" fill="#f01414"/>
<circle cx="445.6" cy="105.4" r="1.35" fill="#f01414"/>
<circle cx="446.1" cy="101.8" r="1.35" fill="#f01414"/>
<circle cx="446.6" cy="98.1" r="1.35" fill="#f01414"/>
<circle cx="447.1" cy="94.4" r="1.35" fill="#f01414"/>
<circle cx="447.6" cy="90.7" r="1.35" fill="#f01414"/>
<circle cx="448.1" cy="87.0" r="1.35" fill="#f01414"/>
<circle cx="448.6" cy="83.3" r="1.35" fill="#f01414"/>
<circle cx="449.1" cy="79.7" r="1.35" fill="#f01414"/>
<circle cx="449.6" cy="76.0" r="1.35" fill="#f01414"/>
<circle cx="450.1" cy="72.3" r="1.35" fill="#f01414"/>
<circle cx="450.6" cy="68.6" r="1.35" fill="#f01414"/>
<circle cx="451.1" cy="64.9" r="1.6" fill="#f01414"/>
<circle cx="451.6" cy="61.2" r="1.6" fill="#f01414"/>
<circle cx="452.1" cy="57.5" r="1.6" fill="#f01414"/>
<circle cx="452.6" cy="53.9" r="1.6" fill="#f01414"/>
<circle cx="453.1" cy="50.2" r="1.6" fill="#f01414"/>
<circle cx="453.6" cy="46.5" r="1.6" fill="#f01414"/>
<text x="420.6" y="58.5" font-family="'Liberation Sans', sans-serif" font-size="5.3" fill="#444">CIGS</text>
<text x="431.6" y="43.8" font-family="'Liberation Sans', sans-serif" font-size="5.3" fill="#444">GaAs</text>
<text x="437.3" y="36" font-family="'Liberation Sans', sans-serif" font-size="5.3" fill="#444">CdTe</text>
<text x="483.2" y="34.5" font-family="'Liberation Sans', sans-serif" font-size="5.3" fill="#444">a-Si</text>
<text x="426.7" y="80" font-family="'Liberation Sans', sans-serif" font-size="5.3" fill="#444">c-Si</text>
<text x="450.5" y="29.7" font-family="'Liberation Sans', sans-serif" font-size="5.5" fill="#444">CH<tspan font-size="3.8" dy="1.3">3</tspan><tspan dy="-1.3">NH</tspan><tspan font-size="3.8" dy="1.3">3</tspan><tspan dy="-1.3">PbI</tspan><tspan font-size="3.8" dy="1.3">3</tspan></text>
<rect x="486" y="63" width="55.8" height="46.3" fill="#fff" stroke="#555" stroke-width="0.8"/>
<line x1="487.3" y1="63.5" x2="487.3" y2="109" stroke="#111" stroke-width="1.8" stroke-dasharray="1.3,1"/>
<path d="M489,109 L499,67.6" stroke="#909090" stroke-width="0.7" fill="none"/>
<path d="M487.5,109 Q490.5,94 494,83 Q498,72.5 506,69.5 Q520,66.5 541.5,66" fill="none" stroke="#7a7af0" stroke-width="0.8" stroke-dasharray="1.5,1"/>
<line x1="509.2" y1="91.7" x2="519.5" y2="91.7" stroke="#7a7af0" stroke-width="0.8" stroke-dasharray="1.5,1"/>
<text x="522" y="93.8" font-family="'Liberation Sans', sans-serif" font-size="5.8" fill="#333">c-Si</text>
<text x="481" y="64.8" text-anchor="middle" font-family="'Liberation Sans', sans-serif" font-size="4.8" fill="#444">10<tspan font-size="3.2" dy="-2">0</tspan></text>
<text x="481" y="76.9" text-anchor="middle" font-family="'Liberation Sans', sans-serif" font-size="4.8" fill="#444">10<tspan font-size="3.2" dy="-2">-1</tspan></text>
<text x="481" y="88.3" text-anchor="middle" font-family="'Liberation Sans', sans-serif" font-size="4.8" fill="#444">10<tspan font-size="3.2" dy="-2">-2</tspan></text>
<text x="481" y="99.7" text-anchor="middle" font-family="'Liberation Sans', sans-serif" font-size="4.8" fill="#444">10<tspan font-size="3.2" dy="-2">-3</tspan></text>
<text x="481" y="111.1" text-anchor="middle" font-family="'Liberation Sans', sans-serif" font-size="4.8" fill="#444">10<tspan font-size="3.2" dy="-2">-4</tspan></text>
<text x="496.7" y="115.4" text-anchor="middle" font-family="'Liberation Sans', sans-serif" font-size="5.4" fill="#444">1.0</text>
<text x="515.6" y="115.4" text-anchor="middle" font-family="'Liberation Sans', sans-serif" font-size="5.4" fill="#444">1.5</text>
<text x="534.7" y="115.4" text-anchor="middle" font-family="'Liberation Sans', sans-serif" font-size="5.4" fill="#444">2.0</text>
<rect x="414.8" y="21.8" width="127.0" height="96.1" fill="none" stroke="#555" stroke-width="0.8"/>
<line x1="414.8" y1="113.9" x2="416.8" y2="113.9" stroke="#555" stroke-width="0.6"/>
<text x="410" y="115.7" text-anchor="middle" font-family="'Liberation Sans', sans-serif" font-size="5" fill="#444">10<tspan font-size="3.4" dy="-2">0</tspan></text>
<line x1="414.8" y1="98.6" x2="416.8" y2="98.6" stroke="#555" stroke-width="0.6"/>
<text x="410" y="100.4" text-anchor="middle" font-family="'Liberation Sans', sans-serif" font-size="5" fill="#444">10<tspan font-size="3.4" dy="-2">1</tspan></text>
<line x1="414.8" y1="83.3" x2="416.8" y2="83.3" stroke="#555" stroke-width="0.6"/>
<text x="410" y="85.1" text-anchor="middle" font-family="'Liberation Sans', sans-serif" font-size="5" fill="#444">10<tspan font-size="3.4" dy="-2">2</tspan></text>
<line x1="414.8" y1="68.0" x2="416.8" y2="68.0" stroke="#555" stroke-width="0.6"/>
<text x="410" y="69.8" text-anchor="middle" font-family="'Liberation Sans', sans-serif" font-size="5" fill="#444">10<tspan font-size="3.4" dy="-2">3</tspan></text>
<line x1="414.8" y1="52.7" x2="416.8" y2="52.7" stroke="#555" stroke-width="0.6"/>
<text x="410" y="54.5" text-anchor="middle" font-family="'Liberation Sans', sans-serif" font-size="5" fill="#444">10<tspan font-size="3.4" dy="-2">4</tspan></text>
<line x1="414.8" y1="37.4" x2="416.8" y2="37.4" stroke="#555" stroke-width="0.6"/>
<text x="410" y="39.2" text-anchor="middle" font-family="'Liberation Sans', sans-serif" font-size="5" fill="#444">10<tspan font-size="3.4" dy="-2">5</tspan></text>
<line x1="414.8" y1="22.1" x2="416.8" y2="22.1" stroke="#555" stroke-width="0.6"/>
<text x="410" y="23.9" text-anchor="middle" font-family="'Liberation Sans', sans-serif" font-size="5" fill="#444">10<tspan font-size="3.4" dy="-2">6</tspan></text>
<line x1="418.5" y1="117.9" x2="418.5" y2="115.9" stroke="#555" stroke-width="0.6"/>
<line x1="418.5" y1="21.8" x2="418.5" y2="23.8" stroke="#555" stroke-width="0.6"/>
<text x="417.9" y="124.6" text-anchor="middle" font-family="'Liberation Sans', sans-serif" font-size="7" fill="#444">1.0</text>
<line x1="449.2" y1="117.9" x2="449.2" y2="115.9" stroke="#555" stroke-width="0.6"/>
<line x1="449.2" y1="21.8" x2="449.2" y2="23.8" stroke="#555" stroke-width="0.6"/>
<text x="448.6" y="124.6" text-anchor="middle" font-family="'Liberation Sans', sans-serif" font-size="7" fill="#444">1.5</text>
<line x1="479.9" y1="117.9" x2="479.9" y2="115.9" stroke="#555" stroke-width="0.6"/>
<line x1="479.9" y1="21.8" x2="479.9" y2="23.8" stroke="#555" stroke-width="0.6"/>
<text x="479.3" y="124.6" text-anchor="middle" font-family="'Liberation Sans', sans-serif" font-size="7" fill="#444">2.0</text>
<line x1="510.6" y1="117.9" x2="510.6" y2="115.9" stroke="#555" stroke-width="0.6"/>
<line x1="510.6" y1="21.8" x2="510.6" y2="23.8" stroke="#555" stroke-width="0.6"/>
<text x="510.0" y="124.6" text-anchor="middle" font-family="'Liberation Sans', sans-serif" font-size="7" fill="#444">2.5</text>
<line x1="541.3" y1="117.9" x2="541.3" y2="115.9" stroke="#555" stroke-width="0.6"/>
<line x1="541.3" y1="21.8" x2="541.3" y2="23.8" stroke="#555" stroke-width="0.6"/>
<text x="540.7" y="124.6" text-anchor="middle" font-family="'Liberation Sans', sans-serif" font-size="7" fill="#444">3.0</text>
<text x="478.2" y="136.4" text-anchor="middle" textLength="64.6" lengthAdjust="spacingAndGlyphs" font-family="'Liberation Sans', sans-serif" font-size="8.8" fill="#333">Photon energy (eV)</text>
<text transform="translate(400.8,72) rotate(-90)" text-anchor="middle" textLength="92" lengthAdjust="spacingAndGlyphs" font-family="'Liberation Sans', sans-serif" font-size="7" fill="#333">Absorption coefficient (cm<tspan font-size="4.5" dy="-2.5">-1</tspan><tspan dy="2.5">)</tspan></text>
</g>
</svg>
</body></html>
